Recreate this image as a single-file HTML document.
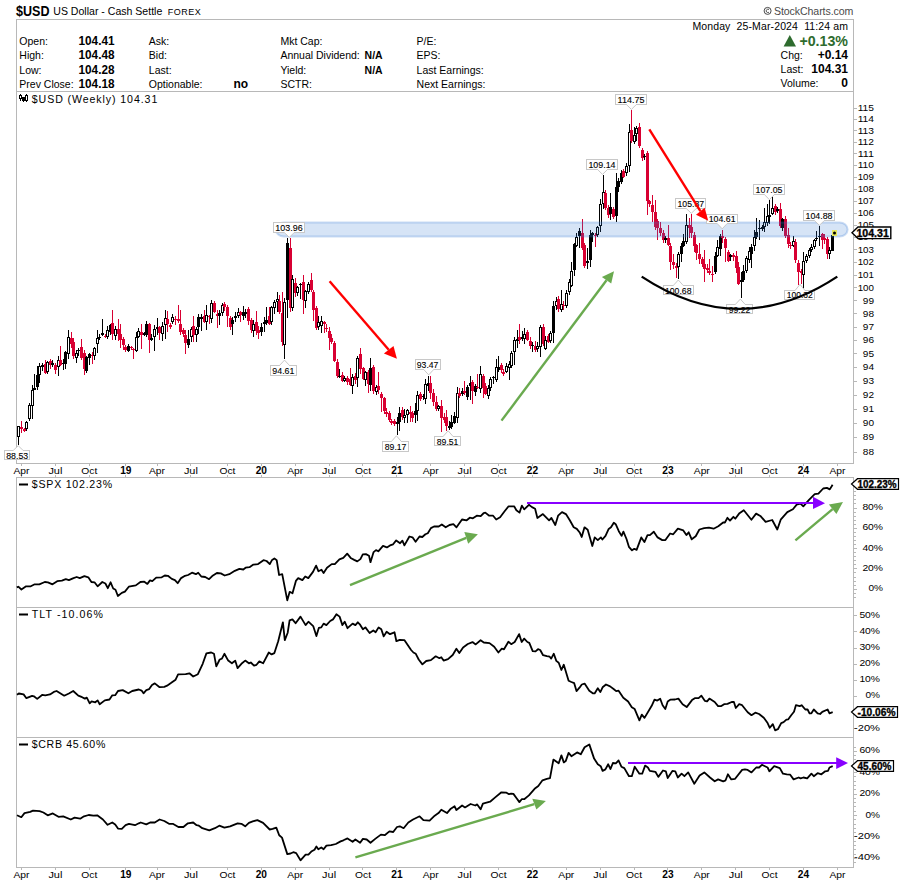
<!DOCTYPE html>
<html><head><meta charset="utf-8"><title>$USD chart</title>
<style>html,body{margin:0;padding:0;background:#fff;width:900px;height:884px;overflow:hidden}
</style></head><body>
<svg width="900" height="884" viewBox="0 0 900 884" style="display:block">
<rect width="900" height="884" fill="#fff"/>
<g font-family="&quot;Liberation Sans&quot;, sans-serif" fill="#000">
<text x="16" y="16" font-size="14" font-weight="bold" textLength="33.5" lengthAdjust="spacingAndGlyphs">$USD</text>
<text x="53.3" y="15.2" font-size="11" textLength="109" lengthAdjust="spacingAndGlyphs">US Dollar - Cash Settle</text>
<text x="167.8" y="14.8" font-size="9" textLength="33" lengthAdjust="spacing">FOREX</text>
</g>
<g font-family="&quot;Liberation Sans&quot;, sans-serif" fill="#4a4a4a">
<circle cx="767.6" cy="10.9" r="3.5" fill="none" stroke="#4a4a4a" stroke-width="1"/>
<path d="M769,9.6 A1.7,1.7 0 1 0 769,12.2" fill="none" stroke="#4a4a4a" stroke-width="0.9"/>
<text x="774" y="14.6" font-size="10.6" textLength="79.3" lengthAdjust="spacing">StockCharts.com</text>
</g>
<rect x="16" y="19" width="838" height="1" fill="#b8b8b8"/>
<rect x="16" y="91" width="838" height="1" fill="#b8b8b8"/>
<rect x="16" y="463" width="838" height="1" fill="#b8b8b8"/>
<rect x="16" y="19" width="1" height="445" fill="#b8b8b8"/>
<rect x="853" y="19" width="1" height="445" fill="#b8b8b8"/>
<rect x="16" y="477" width="838" height="1" fill="#b8b8b8"/>
<rect x="16" y="607" width="838" height="1" fill="#b8b8b8"/>
<rect x="16" y="737" width="838" height="1" fill="#b8b8b8"/>
<rect x="16" y="867" width="838" height="1" fill="#b8b8b8"/>
<rect x="16" y="477" width="1" height="391" fill="#b8b8b8"/>
<rect x="853" y="477" width="1" height="391" fill="#b8b8b8"/>
<g font-family="&quot;Liberation Sans&quot;, sans-serif" fill="#000" font-size="10.5">
<text x="19.3" y="45.3">Open:</text>
<text x="19.3" y="59.2">High:</text>
<text x="19.3" y="73.6">Low:</text>
<text x="19.3" y="87.8">Prev Close:</text>
<text x="78.5" y="45.3" font-weight="bold" font-size="12" textLength="36" lengthAdjust="spacingAndGlyphs">104.41</text>
<text x="78.5" y="59.2" font-weight="bold" font-size="12" textLength="36" lengthAdjust="spacingAndGlyphs">104.48</text>
<text x="78.5" y="73.6" font-weight="bold" font-size="12" textLength="36" lengthAdjust="spacingAndGlyphs">104.28</text>
<text x="78.5" y="87.8" font-weight="bold" font-size="12" textLength="36" lengthAdjust="spacingAndGlyphs">104.18</text>
<text x="148.8" y="45.3">Ask:</text>
<text x="148.8" y="59.2">Bid:</text>
<text x="148.8" y="73.6">Last:</text>
<text x="148.8" y="87.8">Optionable:</text>
<text x="233.5" y="87.8" font-weight="bold" font-size="12">no</text>
<text x="280.4" y="45.3">Mkt Cap:</text>
<text x="280.4" y="59.2">Annual Dividend:</text>
<text x="280.4" y="73.6">Yield:</text>
<text x="280.4" y="87.8">SCTR:</text>
<text x="364.6" y="59.2" font-weight="bold" font-size="11.5" textLength="18" lengthAdjust="spacingAndGlyphs">N/A</text>
<text x="364.6" y="73.6" font-weight="bold" font-size="11.5" textLength="18" lengthAdjust="spacingAndGlyphs">N/A</text>
<text x="416.6" y="45.3">P/E:</text>
<text x="416.6" y="59.2">EPS:</text>
<text x="416.6" y="73.6">Last Earnings:</text>
<text x="416.6" y="87.8">Next Earnings:</text>
<text x="848" y="30" text-anchor="end" xml:space="preserve" textLength="155.6" lengthAdjust="spacing">Monday  25-Mar-2024  11:24 am</text>
<polygon points="783.6,46.4 789.8,35 796,46.4" fill="#2e6b2e"/>
<text x="848" y="45.6" text-anchor="end" font-size="14" font-weight="bold" fill="#2e6b2e" textLength="48.6" lengthAdjust="spacingAndGlyphs">+0.13%</text>
<text x="780.6" y="59">Chg:</text><text x="848" y="59" text-anchor="end" font-weight="bold" font-size="12">+0.14</text>
<text x="780.6" y="73">Last:</text><text x="848" y="73" text-anchor="end" font-weight="bold" font-size="12">104.31</text>
<text x="780.6" y="87">Volume:</text><text x="848" y="87" text-anchor="end" font-weight="bold" font-size="12">0</text>
</g>
<g fill="#000">
<g shape-rendering="crispEdges">
<rect x="20" y="94" width="1" height="7"/><rect x="19" y="95" width="3" height="4"/><rect x="20" y="96" width="1" height="2" fill="#fff"/>
<rect x="22" y="97" width="3" height="4"/><rect x="23" y="100" width="1" height="2"/>
<rect x="26" y="94" width="1" height="8"/><rect x="25" y="95" width="3" height="6"/><rect x="26" y="96" width="1" height="4" fill="#fff"/>
</g>
</g>
<text x="31.8" y="103.1" font-family="&quot;Liberation Sans&quot;, sans-serif" font-size="10.6" textLength="125.5" lengthAdjust="spacing">$USD (Weekly) 104.31</text>
<g font-family="&quot;Liberation Sans&quot;, sans-serif" font-size="10" fill="#000">
<rect x="854" y="452" width="3" height="1" fill="#b8b8b8"/>
<text x="874" y="454.9" text-anchor="end" font-size="9.2" textLength="11.2" lengthAdjust="spacingAndGlyphs">88</text>
<rect x="854" y="437" width="3" height="1" fill="#b8b8b8"/>
<text x="874" y="440.4" text-anchor="end" font-size="9.2" textLength="11.2" lengthAdjust="spacingAndGlyphs">89</text>
<rect x="854" y="423" width="3" height="1" fill="#b8b8b8"/>
<text x="874" y="426.0" text-anchor="end" font-size="9.2" textLength="11.2" lengthAdjust="spacingAndGlyphs">90</text>
<rect x="854" y="409" width="3" height="1" fill="#b8b8b8"/>
<text x="874" y="411.8" text-anchor="end" font-size="9.2" textLength="11.2" lengthAdjust="spacingAndGlyphs">91</text>
<rect x="854" y="395" width="3" height="1" fill="#b8b8b8"/>
<text x="874" y="397.8" text-anchor="end" font-size="9.2" textLength="11.2" lengthAdjust="spacingAndGlyphs">92</text>
<rect x="854" y="381" width="3" height="1" fill="#b8b8b8"/>
<text x="874" y="383.9" text-anchor="end" font-size="9.2" textLength="11.2" lengthAdjust="spacingAndGlyphs">93</text>
<rect x="854" y="367" width="3" height="1" fill="#b8b8b8"/>
<text x="874" y="370.2" text-anchor="end" font-size="9.2" textLength="11.2" lengthAdjust="spacingAndGlyphs">94</text>
<rect x="854" y="353" width="3" height="1" fill="#b8b8b8"/>
<text x="874" y="356.6" text-anchor="end" font-size="9.2" textLength="11.2" lengthAdjust="spacingAndGlyphs">95</text>
<rect x="854" y="340" width="3" height="1" fill="#b8b8b8"/>
<text x="874" y="343.1" text-anchor="end" font-size="9.2" textLength="11.2" lengthAdjust="spacingAndGlyphs">96</text>
<rect x="854" y="327" width="3" height="1" fill="#b8b8b8"/>
<text x="874" y="329.8" text-anchor="end" font-size="9.2" textLength="11.2" lengthAdjust="spacingAndGlyphs">97</text>
<rect x="854" y="313" width="3" height="1" fill="#b8b8b8"/>
<text x="874" y="316.7" text-anchor="end" font-size="9.2" textLength="11.2" lengthAdjust="spacingAndGlyphs">98</text>
<rect x="854" y="300" width="3" height="1" fill="#b8b8b8"/>
<text x="874" y="303.6" text-anchor="end" font-size="9.2" textLength="11.2" lengthAdjust="spacingAndGlyphs">99</text>
<rect x="854" y="287" width="3" height="1" fill="#b8b8b8"/>
<text x="874" y="290.7" text-anchor="end" font-size="9.2" textLength="16.3" lengthAdjust="spacingAndGlyphs">100</text>
<rect x="854" y="275" width="3" height="1" fill="#b8b8b8"/>
<text x="874" y="277.9" text-anchor="end" font-size="9.2" textLength="16.3" lengthAdjust="spacingAndGlyphs">101</text>
<rect x="854" y="262" width="3" height="1" fill="#b8b8b8"/>
<text x="874" y="265.3" text-anchor="end" font-size="9.2" textLength="16.3" lengthAdjust="spacingAndGlyphs">102</text>
<rect x="854" y="249" width="3" height="1" fill="#b8b8b8"/>
<text x="874" y="252.8" text-anchor="end" font-size="9.2" textLength="16.3" lengthAdjust="spacingAndGlyphs">103</text>
<rect x="854" y="237" width="3" height="1" fill="#b8b8b8"/>
<text x="874" y="240.3" text-anchor="end" font-size="9.2" textLength="16.3" lengthAdjust="spacingAndGlyphs">104</text>
<rect x="854" y="225" width="3" height="1" fill="#b8b8b8"/>
<text x="874" y="228.1" text-anchor="end" font-size="9.2" textLength="16.3" lengthAdjust="spacingAndGlyphs">105</text>
<rect x="854" y="213" width="3" height="1" fill="#b8b8b8"/>
<text x="874" y="215.9" text-anchor="end" font-size="9.2" textLength="16.3" lengthAdjust="spacingAndGlyphs">106</text>
<rect x="854" y="201" width="3" height="1" fill="#b8b8b8"/>
<text x="874" y="203.8" text-anchor="end" font-size="9.2" textLength="16.3" lengthAdjust="spacingAndGlyphs">107</text>
<rect x="854" y="189" width="3" height="1" fill="#b8b8b8"/>
<text x="874" y="191.9" text-anchor="end" font-size="9.2" textLength="16.3" lengthAdjust="spacingAndGlyphs">108</text>
<rect x="854" y="177" width="3" height="1" fill="#b8b8b8"/>
<text x="874" y="180.0" text-anchor="end" font-size="9.2" textLength="16.3" lengthAdjust="spacingAndGlyphs">109</text>
<rect x="854" y="165" width="3" height="1" fill="#b8b8b8"/>
<text x="874" y="168.3" text-anchor="end" font-size="9.2" textLength="16.3" lengthAdjust="spacingAndGlyphs">110</text>
<rect x="854" y="153" width="3" height="1" fill="#b8b8b8"/>
<text x="874" y="156.7" text-anchor="end" font-size="9.2" textLength="16.3" lengthAdjust="spacingAndGlyphs">111</text>
<rect x="854" y="142" width="3" height="1" fill="#b8b8b8"/>
<text x="874" y="145.2" text-anchor="end" font-size="9.2" textLength="16.3" lengthAdjust="spacingAndGlyphs">112</text>
<rect x="854" y="130" width="3" height="1" fill="#b8b8b8"/>
<text x="874" y="133.8" text-anchor="end" font-size="9.2" textLength="16.3" lengthAdjust="spacingAndGlyphs">113</text>
<rect x="854" y="119" width="3" height="1" fill="#b8b8b8"/>
<text x="874" y="122.4" text-anchor="end" font-size="9.2" textLength="16.3" lengthAdjust="spacingAndGlyphs">114</text>
<rect x="854" y="108" width="3" height="1" fill="#b8b8b8"/>
<text x="874" y="111.2" text-anchor="end" font-size="9.2" textLength="16.3" lengthAdjust="spacingAndGlyphs">115</text>
</g>
<g font-family="&quot;Liberation Sans&quot;, sans-serif" fill="#000">
<rect x="21" y="464" width="1" height="2" fill="#b8b8b8"/>
<rect x="21" y="475" width="1" height="2" fill="#b8b8b8"/>
<text x="21.5" y="474.3" text-anchor="middle" font-size="9.3" textLength="16" lengthAdjust="spacingAndGlyphs">Apr</text>
<rect x="55" y="464" width="1" height="2" fill="#b8b8b8"/>
<rect x="55" y="475" width="1" height="2" fill="#b8b8b8"/>
<text x="55.4" y="474.3" text-anchor="middle" font-size="9.3" textLength="14" lengthAdjust="spacingAndGlyphs">Jul</text>
<rect x="89" y="464" width="1" height="2" fill="#b8b8b8"/>
<rect x="89" y="475" width="1" height="2" fill="#b8b8b8"/>
<text x="89.3" y="474.3" text-anchor="middle" font-size="9.3" textLength="16" lengthAdjust="spacingAndGlyphs">Oct</text>
<rect x="125" y="464" width="1" height="2" fill="#b8b8b8"/>
<rect x="125" y="475" width="1" height="2" fill="#b8b8b8"/>
<text x="125.8" y="474.3" text-anchor="middle" font-size="10.5" font-weight="bold" textLength="11.3" lengthAdjust="spacingAndGlyphs">19</text>
<rect x="157" y="464" width="1" height="2" fill="#b8b8b8"/>
<rect x="157" y="475" width="1" height="2" fill="#b8b8b8"/>
<text x="157.0" y="474.3" text-anchor="middle" font-size="9.3" textLength="16" lengthAdjust="spacingAndGlyphs">Apr</text>
<rect x="190" y="464" width="1" height="2" fill="#b8b8b8"/>
<rect x="190" y="475" width="1" height="2" fill="#b8b8b8"/>
<text x="190.9" y="474.3" text-anchor="middle" font-size="9.3" textLength="14" lengthAdjust="spacingAndGlyphs">Jul</text>
<rect x="227" y="464" width="1" height="2" fill="#b8b8b8"/>
<rect x="227" y="475" width="1" height="2" fill="#b8b8b8"/>
<text x="227.4" y="474.3" text-anchor="middle" font-size="9.3" textLength="16" lengthAdjust="spacingAndGlyphs">Oct</text>
<rect x="261" y="464" width="1" height="2" fill="#b8b8b8"/>
<rect x="261" y="475" width="1" height="2" fill="#b8b8b8"/>
<text x="261.3" y="474.3" text-anchor="middle" font-size="10.5" font-weight="bold" textLength="11.3" lengthAdjust="spacingAndGlyphs">20</text>
<rect x="295" y="464" width="1" height="2" fill="#b8b8b8"/>
<rect x="295" y="475" width="1" height="2" fill="#b8b8b8"/>
<text x="295.2" y="474.3" text-anchor="middle" font-size="9.3" textLength="16" lengthAdjust="spacingAndGlyphs">Apr</text>
<rect x="329" y="464" width="1" height="2" fill="#b8b8b8"/>
<rect x="329" y="475" width="1" height="2" fill="#b8b8b8"/>
<text x="329.1" y="474.3" text-anchor="middle" font-size="9.3" textLength="14" lengthAdjust="spacingAndGlyphs">Jul</text>
<rect x="362" y="464" width="1" height="2" fill="#b8b8b8"/>
<rect x="362" y="475" width="1" height="2" fill="#b8b8b8"/>
<text x="363.0" y="474.3" text-anchor="middle" font-size="9.3" textLength="16" lengthAdjust="spacingAndGlyphs">Oct</text>
<rect x="396" y="464" width="1" height="2" fill="#b8b8b8"/>
<rect x="396" y="475" width="1" height="2" fill="#b8b8b8"/>
<text x="396.9" y="474.3" text-anchor="middle" font-size="10.5" font-weight="bold" textLength="11.3" lengthAdjust="spacingAndGlyphs">21</text>
<rect x="430" y="464" width="1" height="2" fill="#b8b8b8"/>
<rect x="430" y="475" width="1" height="2" fill="#b8b8b8"/>
<text x="430.7" y="474.3" text-anchor="middle" font-size="9.3" textLength="16" lengthAdjust="spacingAndGlyphs">Apr</text>
<rect x="464" y="464" width="1" height="2" fill="#b8b8b8"/>
<rect x="464" y="475" width="1" height="2" fill="#b8b8b8"/>
<text x="464.6" y="474.3" text-anchor="middle" font-size="9.3" textLength="14" lengthAdjust="spacingAndGlyphs">Jul</text>
<rect x="498" y="464" width="1" height="2" fill="#b8b8b8"/>
<rect x="498" y="475" width="1" height="2" fill="#b8b8b8"/>
<text x="498.5" y="474.3" text-anchor="middle" font-size="9.3" textLength="16" lengthAdjust="spacingAndGlyphs">Oct</text>
<rect x="532" y="464" width="1" height="2" fill="#b8b8b8"/>
<rect x="532" y="475" width="1" height="2" fill="#b8b8b8"/>
<text x="532.4" y="474.3" text-anchor="middle" font-size="10.5" font-weight="bold" textLength="11.3" lengthAdjust="spacingAndGlyphs">22</text>
<rect x="566" y="464" width="1" height="2" fill="#b8b8b8"/>
<rect x="566" y="475" width="1" height="2" fill="#b8b8b8"/>
<text x="566.3" y="474.3" text-anchor="middle" font-size="9.3" textLength="16" lengthAdjust="spacingAndGlyphs">Apr</text>
<rect x="600" y="464" width="1" height="2" fill="#b8b8b8"/>
<rect x="600" y="475" width="1" height="2" fill="#b8b8b8"/>
<text x="600.2" y="474.3" text-anchor="middle" font-size="9.3" textLength="14" lengthAdjust="spacingAndGlyphs">Jul</text>
<rect x="634" y="464" width="1" height="2" fill="#b8b8b8"/>
<rect x="634" y="475" width="1" height="2" fill="#b8b8b8"/>
<text x="634.1" y="474.3" text-anchor="middle" font-size="9.3" textLength="16" lengthAdjust="spacingAndGlyphs">Oct</text>
<rect x="667" y="464" width="1" height="2" fill="#b8b8b8"/>
<rect x="667" y="475" width="1" height="2" fill="#b8b8b8"/>
<text x="668.0" y="474.3" text-anchor="middle" font-size="10.5" font-weight="bold" textLength="11.3" lengthAdjust="spacingAndGlyphs">23</text>
<rect x="701" y="464" width="1" height="2" fill="#b8b8b8"/>
<rect x="701" y="475" width="1" height="2" fill="#b8b8b8"/>
<text x="701.8" y="474.3" text-anchor="middle" font-size="9.3" textLength="16" lengthAdjust="spacingAndGlyphs">Apr</text>
<rect x="735" y="464" width="1" height="2" fill="#b8b8b8"/>
<rect x="735" y="475" width="1" height="2" fill="#b8b8b8"/>
<text x="735.7" y="474.3" text-anchor="middle" font-size="9.3" textLength="14" lengthAdjust="spacingAndGlyphs">Jul</text>
<rect x="769" y="464" width="1" height="2" fill="#b8b8b8"/>
<rect x="769" y="475" width="1" height="2" fill="#b8b8b8"/>
<text x="769.6" y="474.3" text-anchor="middle" font-size="9.3" textLength="16" lengthAdjust="spacingAndGlyphs">Oct</text>
<rect x="803" y="464" width="1" height="2" fill="#b8b8b8"/>
<rect x="803" y="475" width="1" height="2" fill="#b8b8b8"/>
<text x="803.5" y="474.3" text-anchor="middle" font-size="10.5" font-weight="bold" textLength="11.3" lengthAdjust="spacingAndGlyphs">24</text>
<rect x="837" y="464" width="1" height="2" fill="#b8b8b8"/>
<rect x="837" y="475" width="1" height="2" fill="#b8b8b8"/>
<text x="837.4" y="474.3" text-anchor="middle" font-size="9.3" textLength="16" lengthAdjust="spacingAndGlyphs">Apr</text>
</g>
<g font-family="&quot;Liberation Sans&quot;, sans-serif" fill="#000">
<rect x="21" y="868" width="1" height="2" fill="#b8b8b8"/>
<text x="21.5" y="878.3" text-anchor="middle" font-size="9.3" textLength="16" lengthAdjust="spacingAndGlyphs">Apr</text>
<rect x="55" y="868" width="1" height="2" fill="#b8b8b8"/>
<text x="55.4" y="878.3" text-anchor="middle" font-size="9.3" textLength="14" lengthAdjust="spacingAndGlyphs">Jul</text>
<rect x="89" y="868" width="1" height="2" fill="#b8b8b8"/>
<text x="89.3" y="878.3" text-anchor="middle" font-size="9.3" textLength="16" lengthAdjust="spacingAndGlyphs">Oct</text>
<rect x="125" y="868" width="1" height="2" fill="#b8b8b8"/>
<text x="125.8" y="878.3" text-anchor="middle" font-size="10.5" font-weight="bold" textLength="11.3" lengthAdjust="spacingAndGlyphs">19</text>
<rect x="157" y="868" width="1" height="2" fill="#b8b8b8"/>
<text x="157.0" y="878.3" text-anchor="middle" font-size="9.3" textLength="16" lengthAdjust="spacingAndGlyphs">Apr</text>
<rect x="190" y="868" width="1" height="2" fill="#b8b8b8"/>
<text x="190.9" y="878.3" text-anchor="middle" font-size="9.3" textLength="14" lengthAdjust="spacingAndGlyphs">Jul</text>
<rect x="227" y="868" width="1" height="2" fill="#b8b8b8"/>
<text x="227.4" y="878.3" text-anchor="middle" font-size="9.3" textLength="16" lengthAdjust="spacingAndGlyphs">Oct</text>
<rect x="261" y="868" width="1" height="2" fill="#b8b8b8"/>
<text x="261.3" y="878.3" text-anchor="middle" font-size="10.5" font-weight="bold" textLength="11.3" lengthAdjust="spacingAndGlyphs">20</text>
<rect x="295" y="868" width="1" height="2" fill="#b8b8b8"/>
<text x="295.2" y="878.3" text-anchor="middle" font-size="9.3" textLength="16" lengthAdjust="spacingAndGlyphs">Apr</text>
<rect x="329" y="868" width="1" height="2" fill="#b8b8b8"/>
<text x="329.1" y="878.3" text-anchor="middle" font-size="9.3" textLength="14" lengthAdjust="spacingAndGlyphs">Jul</text>
<rect x="362" y="868" width="1" height="2" fill="#b8b8b8"/>
<text x="363.0" y="878.3" text-anchor="middle" font-size="9.3" textLength="16" lengthAdjust="spacingAndGlyphs">Oct</text>
<rect x="396" y="868" width="1" height="2" fill="#b8b8b8"/>
<text x="396.9" y="878.3" text-anchor="middle" font-size="10.5" font-weight="bold" textLength="11.3" lengthAdjust="spacingAndGlyphs">21</text>
<rect x="430" y="868" width="1" height="2" fill="#b8b8b8"/>
<text x="430.7" y="878.3" text-anchor="middle" font-size="9.3" textLength="16" lengthAdjust="spacingAndGlyphs">Apr</text>
<rect x="464" y="868" width="1" height="2" fill="#b8b8b8"/>
<text x="464.6" y="878.3" text-anchor="middle" font-size="9.3" textLength="14" lengthAdjust="spacingAndGlyphs">Jul</text>
<rect x="498" y="868" width="1" height="2" fill="#b8b8b8"/>
<text x="498.5" y="878.3" text-anchor="middle" font-size="9.3" textLength="16" lengthAdjust="spacingAndGlyphs">Oct</text>
<rect x="532" y="868" width="1" height="2" fill="#b8b8b8"/>
<text x="532.4" y="878.3" text-anchor="middle" font-size="10.5" font-weight="bold" textLength="11.3" lengthAdjust="spacingAndGlyphs">22</text>
<rect x="566" y="868" width="1" height="2" fill="#b8b8b8"/>
<text x="566.3" y="878.3" text-anchor="middle" font-size="9.3" textLength="16" lengthAdjust="spacingAndGlyphs">Apr</text>
<rect x="600" y="868" width="1" height="2" fill="#b8b8b8"/>
<text x="600.2" y="878.3" text-anchor="middle" font-size="9.3" textLength="14" lengthAdjust="spacingAndGlyphs">Jul</text>
<rect x="634" y="868" width="1" height="2" fill="#b8b8b8"/>
<text x="634.1" y="878.3" text-anchor="middle" font-size="9.3" textLength="16" lengthAdjust="spacingAndGlyphs">Oct</text>
<rect x="667" y="868" width="1" height="2" fill="#b8b8b8"/>
<text x="668.0" y="878.3" text-anchor="middle" font-size="10.5" font-weight="bold" textLength="11.3" lengthAdjust="spacingAndGlyphs">23</text>
<rect x="701" y="868" width="1" height="2" fill="#b8b8b8"/>
<text x="701.8" y="878.3" text-anchor="middle" font-size="9.3" textLength="16" lengthAdjust="spacingAndGlyphs">Apr</text>
<rect x="735" y="868" width="1" height="2" fill="#b8b8b8"/>
<text x="735.7" y="878.3" text-anchor="middle" font-size="9.3" textLength="14" lengthAdjust="spacingAndGlyphs">Jul</text>
<rect x="769" y="868" width="1" height="2" fill="#b8b8b8"/>
<text x="769.6" y="878.3" text-anchor="middle" font-size="9.3" textLength="16" lengthAdjust="spacingAndGlyphs">Oct</text>
<rect x="803" y="868" width="1" height="2" fill="#b8b8b8"/>
<text x="803.5" y="878.3" text-anchor="middle" font-size="10.5" font-weight="bold" textLength="11.3" lengthAdjust="spacingAndGlyphs">24</text>
<rect x="837" y="868" width="1" height="2" fill="#b8b8b8"/>
<text x="837.4" y="878.3" text-anchor="middle" font-size="9.3" textLength="16" lengthAdjust="spacingAndGlyphs">Apr</text>
</g>
<g shape-rendering="crispEdges">
<rect x="18" y="426" width="1" height="19" fill="#000"/>
<rect x="17.5" y="426.5" width="2" height="10" fill="#fff" stroke="#000" stroke-width="1"/>
<rect x="21" y="421" width="1" height="12" fill="#d80032"/>
<rect x="20.5" y="427.5" width="2" height="1" fill="#fff" stroke="#d80032" stroke-width="1"/>
<rect x="24" y="428" width="1" height="4" fill="#d80032"/>
<rect x="23.5" y="429.5" width="2" height="1" fill="#fff" stroke="#d80032" stroke-width="1"/>
<rect x="26" y="421" width="1" height="10" fill="#000"/>
<rect x="25.5" y="422.5" width="2" height="6" fill="#fff" stroke="#000" stroke-width="1"/>
<rect x="29" y="403" width="1" height="18" fill="#000"/>
<rect x="28.5" y="405.5" width="2" height="13" fill="#fff" stroke="#000" stroke-width="1"/>
<rect x="32" y="385" width="1" height="34" fill="#000"/>
<rect x="31.5" y="390.5" width="2" height="15" fill="#fff" stroke="#000" stroke-width="1"/>
<rect x="34" y="374" width="1" height="16" fill="#000"/>
<rect x="33.5" y="388.5" width="2" height="1" fill="#fff" stroke="#000" stroke-width="1"/>
<rect x="37" y="366" width="1" height="24" fill="#000"/>
<rect x="36" y="375" width="3" height="12" fill="#000"/>
<rect x="39" y="363" width="1" height="20" fill="#000"/>
<rect x="38.5" y="366.5" width="2" height="8" fill="#fff" stroke="#000" stroke-width="1"/>
<rect x="42" y="363" width="1" height="8" fill="#000"/>
<rect x="41" y="365" width="3" height="2" fill="#000"/>
<rect x="45" y="360" width="1" height="14" fill="#d80032"/>
<rect x="44" y="364" width="3" height="9" fill="#d80032"/>
<rect x="47" y="361" width="1" height="13" fill="#000"/>
<rect x="46.5" y="362.5" width="2" height="9" fill="#fff" stroke="#000" stroke-width="1"/>
<rect x="50" y="359" width="1" height="10" fill="#d80032"/>
<rect x="49" y="361" width="3" height="4" fill="#d80032"/>
<rect x="52" y="360" width="1" height="7" fill="#000"/>
<rect x="51" y="363" width="3" height="2" fill="#000"/>
<rect x="55" y="363" width="1" height="11" fill="#d80032"/>
<rect x="54" y="365" width="3" height="5" fill="#d80032"/>
<rect x="58" y="356" width="1" height="20" fill="#000"/>
<rect x="57.5" y="360.5" width="2" height="6" fill="#fff" stroke="#000" stroke-width="1"/>
<rect x="60" y="346" width="1" height="20" fill="#d80032"/>
<rect x="59" y="360" width="3" height="5" fill="#d80032"/>
<rect x="63" y="359" width="1" height="11" fill="#000"/>
<rect x="62" y="363" width="3" height="1" fill="#000"/>
<rect x="65" y="351" width="1" height="18" fill="#000"/>
<rect x="64" y="352" width="3" height="12" fill="#000"/>
<rect x="68" y="330" width="1" height="29" fill="#000"/>
<rect x="67.5" y="337.5" width="2" height="16" fill="#fff" stroke="#000" stroke-width="1"/>
<rect x="71" y="332" width="1" height="16" fill="#d80032"/>
<rect x="70" y="338" width="3" height="6" fill="#d80032"/>
<rect x="73" y="338" width="1" height="21" fill="#d80032"/>
<rect x="72" y="342" width="3" height="14" fill="#d80032"/>
<rect x="76" y="350" width="1" height="13" fill="#000"/>
<rect x="75.5" y="353.5" width="2" height="4" fill="#fff" stroke="#000" stroke-width="1"/>
<rect x="78" y="348" width="1" height="8" fill="#000"/>
<rect x="77" y="350" width="3" height="1" fill="#000"/>
<rect x="81" y="339" width="1" height="21" fill="#d80032"/>
<rect x="80" y="347" width="3" height="11" fill="#d80032"/>
<rect x="84" y="350" width="1" height="25" fill="#d80032"/>
<rect x="83" y="353" width="3" height="16" fill="#d80032"/>
<rect x="86" y="356" width="1" height="17" fill="#000"/>
<rect x="85" y="357" width="3" height="14" fill="#000"/>
<rect x="89" y="353" width="1" height="12" fill="#000"/>
<rect x="88" y="354" width="3" height="4" fill="#000"/>
<rect x="92" y="352" width="1" height="12" fill="#d80032"/>
<rect x="91" y="355" width="3" height="1" fill="#d80032"/>
<rect x="94" y="347" width="1" height="13" fill="#000"/>
<rect x="93.5" y="348.5" width="2" height="7" fill="#fff" stroke="#000" stroke-width="1"/>
<rect x="97" y="330" width="1" height="23" fill="#000"/>
<rect x="96.5" y="338.5" width="2" height="5" fill="#fff" stroke="#000" stroke-width="1"/>
<rect x="99" y="334" width="1" height="6" fill="#000"/>
<rect x="98" y="337" width="3" height="1" fill="#000"/>
<rect x="102" y="319" width="1" height="17" fill="#000"/>
<rect x="101.5" y="333.5" width="2" height="1" fill="#fff" stroke="#000" stroke-width="1"/>
<rect x="105" y="334" width="1" height="4" fill="#d80032"/>
<rect x="104" y="336" width="3" height="1" fill="#d80032"/>
<rect x="107" y="326" width="1" height="13" fill="#000"/>
<rect x="106.5" y="330.5" width="2" height="6" fill="#fff" stroke="#000" stroke-width="1"/>
<rect x="110" y="324" width="1" height="11" fill="#000"/>
<rect x="109" y="325" width="3" height="7" fill="#000"/>
<rect x="112" y="310" width="1" height="30" fill="#d80032"/>
<rect x="111" y="323" width="3" height="11" fill="#d80032"/>
<rect x="115" y="326" width="1" height="14" fill="#000"/>
<rect x="114.5" y="329.5" width="2" height="6" fill="#fff" stroke="#000" stroke-width="1"/>
<rect x="118" y="319" width="1" height="22" fill="#d80032"/>
<rect x="117" y="329" width="3" height="5" fill="#d80032"/>
<rect x="120" y="324" width="1" height="24" fill="#d80032"/>
<rect x="119" y="334" width="3" height="6" fill="#d80032"/>
<rect x="123" y="337" width="1" height="13" fill="#d80032"/>
<rect x="122" y="339" width="3" height="6" fill="#d80032"/>
<rect x="125" y="345" width="1" height="7" fill="#d80032"/>
<rect x="124" y="347" width="3" height="3" fill="#d80032"/>
<rect x="128" y="344" width="1" height="8" fill="#000"/>
<rect x="127" y="346" width="3" height="5" fill="#000"/>
<rect x="131" y="346" width="1" height="4" fill="#d80032"/>
<rect x="130" y="347" width="3" height="1" fill="#d80032"/>
<rect x="133" y="348" width="1" height="11" fill="#d80032"/>
<rect x="132" y="349" width="3" height="1" fill="#d80032"/>
<rect x="136" y="332" width="1" height="20" fill="#000"/>
<rect x="135.5" y="337.5" width="2" height="13" fill="#fff" stroke="#000" stroke-width="1"/>
<rect x="138" y="328" width="1" height="10" fill="#000"/>
<rect x="137.5" y="331.5" width="2" height="5" fill="#fff" stroke="#000" stroke-width="1"/>
<rect x="141" y="324" width="1" height="25" fill="#d80032"/>
<rect x="140" y="332" width="3" height="3" fill="#d80032"/>
<rect x="144" y="332" width="1" height="4" fill="#000"/>
<rect x="143" y="333" width="3" height="2" fill="#000"/>
<rect x="146" y="321" width="1" height="16" fill="#000"/>
<rect x="145" y="324" width="3" height="11" fill="#000"/>
<rect x="149" y="323" width="1" height="30" fill="#d80032"/>
<rect x="148" y="324" width="3" height="16" fill="#d80032"/>
<rect x="151" y="334" width="1" height="7" fill="#000"/>
<rect x="150.5" y="338.5" width="2" height="1" fill="#fff" stroke="#000" stroke-width="1"/>
<rect x="154" y="325" width="1" height="26" fill="#000"/>
<rect x="153.5" y="329.5" width="2" height="7" fill="#fff" stroke="#000" stroke-width="1"/>
<rect x="157" y="318" width="1" height="17" fill="#000"/>
<rect x="156.5" y="327.5" width="2" height="1" fill="#fff" stroke="#000" stroke-width="1"/>
<rect x="159" y="326" width="1" height="14" fill="#d80032"/>
<rect x="158" y="327" width="3" height="6" fill="#d80032"/>
<rect x="162" y="322" width="1" height="19" fill="#000"/>
<rect x="161.5" y="326.5" width="2" height="7" fill="#fff" stroke="#000" stroke-width="1"/>
<rect x="165" y="310" width="1" height="29" fill="#000"/>
<rect x="164.5" y="318.5" width="2" height="6" fill="#fff" stroke="#000" stroke-width="1"/>
<rect x="167" y="311" width="1" height="21" fill="#d80032"/>
<rect x="166" y="319" width="3" height="5" fill="#d80032"/>
<rect x="170" y="323" width="1" height="6" fill="#d80032"/>
<rect x="169.5" y="325.5" width="2" height="1" fill="#fff" stroke="#d80032" stroke-width="1"/>
<rect x="172" y="314" width="1" height="10" fill="#000"/>
<rect x="171.5" y="317.5" width="2" height="4" fill="#fff" stroke="#000" stroke-width="1"/>
<rect x="175" y="316" width="1" height="9" fill="#d80032"/>
<rect x="174" y="319" width="3" height="1" fill="#d80032"/>
<rect x="178" y="305" width="1" height="18" fill="#d80032"/>
<rect x="177.5" y="319.5" width="2" height="1" fill="#fff" stroke="#d80032" stroke-width="1"/>
<rect x="180" y="310" width="1" height="25" fill="#d80032"/>
<rect x="179" y="324" width="3" height="8" fill="#d80032"/>
<rect x="183" y="328" width="1" height="9" fill="#d80032"/>
<rect x="182" y="330" width="3" height="4" fill="#d80032"/>
<rect x="185" y="330" width="1" height="24" fill="#d80032"/>
<rect x="184" y="335" width="3" height="8" fill="#d80032"/>
<rect x="188" y="330" width="1" height="18" fill="#000"/>
<rect x="187" y="339" width="3" height="6" fill="#000"/>
<rect x="191" y="327" width="1" height="15" fill="#000"/>
<rect x="190.5" y="329.5" width="2" height="7" fill="#fff" stroke="#000" stroke-width="1"/>
<rect x="193" y="316" width="1" height="26" fill="#d80032"/>
<rect x="192" y="326" width="3" height="9" fill="#d80032"/>
<rect x="196" y="327" width="1" height="15" fill="#000"/>
<rect x="195.5" y="329.5" width="2" height="5" fill="#fff" stroke="#000" stroke-width="1"/>
<rect x="198" y="314" width="1" height="20" fill="#000"/>
<rect x="197" y="317" width="3" height="10" fill="#000"/>
<rect x="201" y="314" width="1" height="17" fill="#000"/>
<rect x="200.5" y="317.5" width="2" height="1" fill="#fff" stroke="#000" stroke-width="1"/>
<rect x="204" y="310" width="1" height="13" fill="#d80032"/>
<rect x="203" y="316" width="3" height="6" fill="#d80032"/>
<rect x="206" y="305" width="1" height="25" fill="#000"/>
<rect x="205.5" y="315.5" width="2" height="6" fill="#fff" stroke="#000" stroke-width="1"/>
<rect x="209" y="315" width="1" height="9" fill="#d80032"/>
<rect x="208" y="316" width="3" height="1" fill="#d80032"/>
<rect x="211" y="300" width="1" height="23" fill="#000"/>
<rect x="210.5" y="303.5" width="2" height="15" fill="#fff" stroke="#000" stroke-width="1"/>
<rect x="214" y="301" width="1" height="12" fill="#d80032"/>
<rect x="213" y="303" width="3" height="9" fill="#d80032"/>
<rect x="217" y="310" width="1" height="18" fill="#d80032"/>
<rect x="216" y="314" width="3" height="2" fill="#d80032"/>
<rect x="219" y="310" width="1" height="15" fill="#000"/>
<rect x="218" y="313" width="3" height="3" fill="#000"/>
<rect x="222" y="303" width="1" height="13" fill="#000"/>
<rect x="221.5" y="305.5" width="2" height="7" fill="#fff" stroke="#000" stroke-width="1"/>
<rect x="224" y="302" width="1" height="9" fill="#d80032"/>
<rect x="223" y="304" width="3" height="3" fill="#d80032"/>
<rect x="227" y="305" width="1" height="22" fill="#d80032"/>
<rect x="226" y="307" width="3" height="9" fill="#d80032"/>
<rect x="230" y="316" width="1" height="14" fill="#d80032"/>
<rect x="229" y="318" width="3" height="9" fill="#d80032"/>
<rect x="232" y="317" width="1" height="18" fill="#000"/>
<rect x="231" y="320" width="3" height="4" fill="#000"/>
<rect x="235" y="312" width="1" height="10" fill="#000"/>
<rect x="234" y="316" width="3" height="2" fill="#000"/>
<rect x="238" y="308" width="1" height="10" fill="#000"/>
<rect x="237.5" y="312.5" width="2" height="3" fill="#fff" stroke="#000" stroke-width="1"/>
<rect x="240" y="311" width="1" height="11" fill="#d80032"/>
<rect x="239" y="312" width="3" height="3" fill="#d80032"/>
<rect x="243" y="306" width="1" height="14" fill="#000"/>
<rect x="242" y="312" width="3" height="4" fill="#000"/>
<rect x="245" y="309" width="1" height="9" fill="#000"/>
<rect x="244.5" y="312.5" width="2" height="1" fill="#fff" stroke="#000" stroke-width="1"/>
<rect x="248" y="307" width="1" height="18" fill="#d80032"/>
<rect x="247" y="309" width="3" height="12" fill="#d80032"/>
<rect x="251" y="318" width="1" height="15" fill="#d80032"/>
<rect x="250" y="320" width="3" height="10" fill="#d80032"/>
<rect x="253" y="320" width="1" height="17" fill="#000"/>
<rect x="252.5" y="324.5" width="2" height="6" fill="#fff" stroke="#000" stroke-width="1"/>
<rect x="256" y="311" width="1" height="24" fill="#d80032"/>
<rect x="255" y="322" width="3" height="9" fill="#d80032"/>
<rect x="258" y="326" width="1" height="13" fill="#d80032"/>
<rect x="257" y="330" width="3" height="3" fill="#d80032"/>
<rect x="261" y="323" width="1" height="13" fill="#000"/>
<rect x="260" y="327" width="3" height="5" fill="#000"/>
<rect x="264" y="317" width="1" height="15" fill="#000"/>
<rect x="263.5" y="322.5" width="2" height="1" fill="#fff" stroke="#000" stroke-width="1"/>
<rect x="266" y="307" width="1" height="18" fill="#000"/>
<rect x="265" y="320" width="3" height="3" fill="#000"/>
<rect x="269" y="307" width="1" height="18" fill="#d80032"/>
<rect x="268" y="316" width="3" height="8" fill="#d80032"/>
<rect x="271" y="306" width="1" height="19" fill="#000"/>
<rect x="270.5" y="307.5" width="2" height="14" fill="#fff" stroke="#000" stroke-width="1"/>
<rect x="274" y="300" width="1" height="14" fill="#000"/>
<rect x="273.5" y="302.5" width="2" height="5" fill="#fff" stroke="#000" stroke-width="1"/>
<rect x="277" y="292" width="1" height="20" fill="#000"/>
<rect x="276.5" y="299.5" width="2" height="2" fill="#fff" stroke="#000" stroke-width="1"/>
<rect x="279" y="295" width="1" height="19" fill="#d80032"/>
<rect x="278" y="301" width="3" height="11" fill="#d80032"/>
<rect x="282" y="292" width="1" height="54" fill="#d80032"/>
<rect x="281" y="313" width="3" height="29" fill="#d80032"/>
<rect x="284" y="298" width="1" height="61" fill="#000"/>
<rect x="283.5" y="302.5" width="2" height="42" fill="#fff" stroke="#000" stroke-width="1"/>
<rect x="287" y="238" width="1" height="80" fill="#000"/>
<rect x="286" y="243" width="3" height="57" fill="#000"/>
<rect x="290" y="238" width="1" height="74" fill="#d80032"/>
<rect x="289" y="248" width="3" height="60" fill="#d80032"/>
<rect x="292" y="275" width="1" height="36" fill="#000"/>
<rect x="291.5" y="279.5" width="2" height="28" fill="#fff" stroke="#000" stroke-width="1"/>
<rect x="295" y="278" width="1" height="19" fill="#d80032"/>
<rect x="294" y="283" width="3" height="10" fill="#d80032"/>
<rect x="297" y="286" width="1" height="10" fill="#000"/>
<rect x="296.5" y="287.5" width="2" height="5" fill="#fff" stroke="#000" stroke-width="1"/>
<rect x="300" y="283" width="1" height="16" fill="#000"/>
<rect x="299" y="284" width="3" height="1" fill="#000"/>
<rect x="303" y="275" width="1" height="39" fill="#d80032"/>
<rect x="302" y="282" width="3" height="18" fill="#d80032"/>
<rect x="305" y="290" width="1" height="18" fill="#000"/>
<rect x="304.5" y="291.5" width="2" height="9" fill="#fff" stroke="#000" stroke-width="1"/>
<rect x="308" y="282" width="1" height="12" fill="#000"/>
<rect x="307.5" y="284.5" width="2" height="7" fill="#fff" stroke="#000" stroke-width="1"/>
<rect x="311" y="273" width="1" height="19" fill="#d80032"/>
<rect x="310" y="280" width="3" height="10" fill="#d80032"/>
<rect x="313" y="290" width="1" height="31" fill="#d80032"/>
<rect x="312" y="292" width="3" height="18" fill="#d80032"/>
<rect x="316" y="306" width="1" height="24" fill="#d80032"/>
<rect x="315" y="308" width="3" height="20" fill="#d80032"/>
<rect x="318" y="316" width="1" height="14" fill="#000"/>
<rect x="317.5" y="322.5" width="2" height="4" fill="#fff" stroke="#000" stroke-width="1"/>
<rect x="321" y="316" width="1" height="17" fill="#000"/>
<rect x="320.5" y="321.5" width="2" height="4" fill="#fff" stroke="#000" stroke-width="1"/>
<rect x="324" y="321" width="1" height="12" fill="#d80032"/>
<rect x="323" y="322" width="3" height="2" fill="#d80032"/>
<rect x="326" y="324" width="1" height="8" fill="#d80032"/>
<rect x="325" y="328" width="3" height="1" fill="#d80032"/>
<rect x="329" y="327" width="1" height="23" fill="#d80032"/>
<rect x="328" y="331" width="3" height="7" fill="#d80032"/>
<rect x="331" y="334" width="1" height="10" fill="#d80032"/>
<rect x="330" y="338" width="3" height="4" fill="#d80032"/>
<rect x="334" y="341" width="1" height="21" fill="#d80032"/>
<rect x="333" y="343" width="3" height="18" fill="#d80032"/>
<rect x="337" y="359" width="1" height="19" fill="#d80032"/>
<rect x="336" y="362" width="3" height="14" fill="#d80032"/>
<rect x="339" y="369" width="1" height="9" fill="#000"/>
<rect x="338" y="376" width="3" height="1" fill="#000"/>
<rect x="342" y="372" width="1" height="10" fill="#d80032"/>
<rect x="341" y="375" width="3" height="6" fill="#d80032"/>
<rect x="344" y="376" width="1" height="6" fill="#000"/>
<rect x="343.5" y="378.5" width="2" height="2" fill="#fff" stroke="#000" stroke-width="1"/>
<rect x="347" y="376" width="1" height="9" fill="#d80032"/>
<rect x="346" y="378" width="3" height="4" fill="#d80032"/>
<rect x="350" y="368" width="1" height="18" fill="#d80032"/>
<rect x="349" y="379" width="3" height="6" fill="#d80032"/>
<rect x="352" y="374" width="1" height="20" fill="#000"/>
<rect x="351.5" y="377.5" width="2" height="8" fill="#fff" stroke="#000" stroke-width="1"/>
<rect x="355" y="373" width="1" height="11" fill="#d80032"/>
<rect x="354" y="376" width="3" height="4" fill="#d80032"/>
<rect x="357" y="356" width="1" height="31" fill="#000"/>
<rect x="356.5" y="358.5" width="2" height="19" fill="#fff" stroke="#000" stroke-width="1"/>
<rect x="360" y="348" width="1" height="26" fill="#d80032"/>
<rect x="359" y="354" width="3" height="15" fill="#d80032"/>
<rect x="363" y="367" width="1" height="13" fill="#d80032"/>
<rect x="362" y="368" width="3" height="11" fill="#d80032"/>
<rect x="365" y="371" width="1" height="15" fill="#000"/>
<rect x="364.5" y="372.5" width="2" height="7" fill="#fff" stroke="#000" stroke-width="1"/>
<rect x="368" y="370" width="1" height="23" fill="#d80032"/>
<rect x="367" y="372" width="3" height="12" fill="#d80032"/>
<rect x="370" y="358" width="1" height="33" fill="#000"/>
<rect x="369" y="368" width="3" height="17" fill="#000"/>
<rect x="373" y="365" width="1" height="29" fill="#d80032"/>
<rect x="372" y="367" width="3" height="24" fill="#d80032"/>
<rect x="376" y="385" width="1" height="10" fill="#000"/>
<rect x="375.5" y="387.5" width="2" height="4" fill="#fff" stroke="#000" stroke-width="1"/>
<rect x="378" y="372" width="1" height="22" fill="#d80032"/>
<rect x="377" y="386" width="3" height="4" fill="#d80032"/>
<rect x="381" y="392" width="1" height="20" fill="#d80032"/>
<rect x="380" y="394" width="3" height="4" fill="#d80032"/>
<rect x="384" y="397" width="1" height="17" fill="#d80032"/>
<rect x="383" y="398" width="3" height="13" fill="#d80032"/>
<rect x="386" y="408" width="1" height="9" fill="#d80032"/>
<rect x="385.5" y="412.5" width="2" height="1" fill="#fff" stroke="#d80032" stroke-width="1"/>
<rect x="389" y="411" width="1" height="11" fill="#d80032"/>
<rect x="388" y="413" width="3" height="7" fill="#d80032"/>
<rect x="391" y="419" width="1" height="6" fill="#d80032"/>
<rect x="390.5" y="421.5" width="2" height="1" fill="#fff" stroke="#d80032" stroke-width="1"/>
<rect x="394" y="419" width="1" height="7" fill="#d80032"/>
<rect x="393" y="421" width="3" height="3" fill="#d80032"/>
<rect x="397" y="417" width="1" height="18" fill="#000"/>
<rect x="396.5" y="422.5" width="2" height="1" fill="#fff" stroke="#000" stroke-width="1"/>
<rect x="399" y="407" width="1" height="24" fill="#000"/>
<rect x="398" y="413" width="3" height="9" fill="#000"/>
<rect x="402" y="407" width="1" height="13" fill="#d80032"/>
<rect x="401" y="410" width="3" height="7" fill="#d80032"/>
<rect x="404" y="409" width="1" height="14" fill="#000"/>
<rect x="403.5" y="415.5" width="2" height="2" fill="#fff" stroke="#000" stroke-width="1"/>
<rect x="407" y="409" width="1" height="14" fill="#000"/>
<rect x="406.5" y="410.5" width="2" height="4" fill="#fff" stroke="#000" stroke-width="1"/>
<rect x="410" y="406" width="1" height="16" fill="#d80032"/>
<rect x="409" y="412" width="3" height="2" fill="#d80032"/>
<rect x="412" y="411" width="1" height="11" fill="#d80032"/>
<rect x="411" y="413" width="3" height="5" fill="#d80032"/>
<rect x="415" y="403" width="1" height="20" fill="#000"/>
<rect x="414" y="411" width="3" height="4" fill="#000"/>
<rect x="417" y="391" width="1" height="30" fill="#000"/>
<rect x="416.5" y="395.5" width="2" height="15" fill="#fff" stroke="#000" stroke-width="1"/>
<rect x="420" y="392" width="1" height="9" fill="#d80032"/>
<rect x="419" y="394" width="3" height="5" fill="#d80032"/>
<rect x="423" y="394" width="1" height="6" fill="#000"/>
<rect x="422" y="396" width="3" height="1" fill="#000"/>
<rect x="425" y="379" width="1" height="25" fill="#000"/>
<rect x="424.5" y="384.5" width="2" height="14" fill="#fff" stroke="#000" stroke-width="1"/>
<rect x="428" y="376" width="1" height="15" fill="#000"/>
<rect x="427" y="383" width="3" height="3" fill="#000"/>
<rect x="430" y="376" width="1" height="23" fill="#d80032"/>
<rect x="429" y="383" width="3" height="10" fill="#d80032"/>
<rect x="433" y="389" width="1" height="17" fill="#d80032"/>
<rect x="432" y="393" width="3" height="9" fill="#d80032"/>
<rect x="436" y="396" width="1" height="15" fill="#d80032"/>
<rect x="435" y="402" width="3" height="7" fill="#d80032"/>
<rect x="438" y="405" width="1" height="6" fill="#000"/>
<rect x="437.5" y="406.5" width="2" height="2" fill="#fff" stroke="#000" stroke-width="1"/>
<rect x="441" y="400" width="1" height="32" fill="#d80032"/>
<rect x="440" y="406" width="3" height="12" fill="#d80032"/>
<rect x="444" y="413" width="1" height="10" fill="#d80032"/>
<rect x="443" y="417" width="3" height="3" fill="#d80032"/>
<rect x="446" y="410" width="1" height="21" fill="#d80032"/>
<rect x="445" y="417" width="3" height="9" fill="#d80032"/>
<rect x="449" y="421" width="1" height="9" fill="#000"/>
<rect x="448.5" y="426.5" width="2" height="1" fill="#fff" stroke="#000" stroke-width="1"/>
<rect x="451" y="415" width="1" height="14" fill="#000"/>
<rect x="450" y="422" width="3" height="5" fill="#000"/>
<rect x="454" y="412" width="1" height="12" fill="#000"/>
<rect x="453" y="416" width="3" height="7" fill="#000"/>
<rect x="457" y="387" width="1" height="36" fill="#000"/>
<rect x="456.5" y="393.5" width="2" height="24" fill="#fff" stroke="#000" stroke-width="1"/>
<rect x="459" y="388" width="1" height="10" fill="#d80032"/>
<rect x="458" y="393" width="3" height="3" fill="#d80032"/>
<rect x="462" y="388" width="1" height="8" fill="#000"/>
<rect x="461" y="391" width="3" height="3" fill="#000"/>
<rect x="464" y="381" width="1" height="14" fill="#d80032"/>
<rect x="463" y="391" width="3" height="2" fill="#d80032"/>
<rect x="467" y="385" width="1" height="15" fill="#000"/>
<rect x="466" y="387" width="3" height="10" fill="#000"/>
<rect x="470" y="376" width="1" height="24" fill="#000"/>
<rect x="469" y="383" width="3" height="3" fill="#000"/>
<rect x="472" y="380" width="1" height="24" fill="#d80032"/>
<rect x="471" y="382" width="3" height="9" fill="#d80032"/>
<rect x="475" y="384" width="1" height="12" fill="#000"/>
<rect x="474" y="386" width="3" height="6" fill="#000"/>
<rect x="477" y="374" width="1" height="15" fill="#d80032"/>
<rect x="476" y="387" width="3" height="1" fill="#d80032"/>
<rect x="480" y="366" width="1" height="27" fill="#000"/>
<rect x="479.5" y="374.5" width="2" height="14" fill="#fff" stroke="#000" stroke-width="1"/>
<rect x="483" y="374" width="1" height="24" fill="#d80032"/>
<rect x="482" y="376" width="3" height="12" fill="#d80032"/>
<rect x="485" y="383" width="1" height="12" fill="#d80032"/>
<rect x="484" y="386" width="3" height="8" fill="#d80032"/>
<rect x="488" y="385" width="1" height="14" fill="#000"/>
<rect x="487.5" y="388.5" width="2" height="7" fill="#fff" stroke="#000" stroke-width="1"/>
<rect x="490" y="377" width="1" height="14" fill="#000"/>
<rect x="489.5" y="379.5" width="2" height="8" fill="#fff" stroke="#000" stroke-width="1"/>
<rect x="493" y="376" width="1" height="8" fill="#000"/>
<rect x="492" y="377" width="3" height="1" fill="#000"/>
<rect x="496" y="359" width="1" height="23" fill="#000"/>
<rect x="495.5" y="367.5" width="2" height="12" fill="#fff" stroke="#000" stroke-width="1"/>
<rect x="498" y="356" width="1" height="16" fill="#000"/>
<rect x="497" y="367" width="3" height="3" fill="#000"/>
<rect x="501" y="363" width="1" height="10" fill="#d80032"/>
<rect x="500" y="365" width="3" height="5" fill="#d80032"/>
<rect x="503" y="369" width="1" height="7" fill="#d80032"/>
<rect x="502.5" y="372.5" width="2" height="1" fill="#fff" stroke="#d80032" stroke-width="1"/>
<rect x="506" y="363" width="1" height="10" fill="#000"/>
<rect x="505.5" y="366.5" width="2" height="5" fill="#fff" stroke="#000" stroke-width="1"/>
<rect x="509" y="361" width="1" height="19" fill="#000"/>
<rect x="508.5" y="364.5" width="2" height="3" fill="#fff" stroke="#000" stroke-width="1"/>
<rect x="511" y="351" width="1" height="17" fill="#000"/>
<rect x="510.5" y="353.5" width="2" height="12" fill="#fff" stroke="#000" stroke-width="1"/>
<rect x="514" y="337" width="1" height="28" fill="#000"/>
<rect x="513.5" y="340.5" width="2" height="11" fill="#fff" stroke="#000" stroke-width="1"/>
<rect x="517" y="330" width="1" height="18" fill="#000"/>
<rect x="516.5" y="339.5" width="2" height="1" fill="#fff" stroke="#000" stroke-width="1"/>
<rect x="519" y="324" width="1" height="20" fill="#d80032"/>
<rect x="518" y="337" width="3" height="3" fill="#d80032"/>
<rect x="522" y="331" width="1" height="10" fill="#000"/>
<rect x="521" y="337" width="3" height="2" fill="#000"/>
<rect x="524" y="328" width="1" height="16" fill="#000"/>
<rect x="523.5" y="334.5" width="2" height="4" fill="#fff" stroke="#000" stroke-width="1"/>
<rect x="527" y="330" width="1" height="11" fill="#d80032"/>
<rect x="526" y="332" width="3" height="8" fill="#d80032"/>
<rect x="530" y="337" width="1" height="12" fill="#d80032"/>
<rect x="529" y="341" width="3" height="5" fill="#d80032"/>
<rect x="532" y="342" width="1" height="10" fill="#000"/>
<rect x="531" y="345" width="3" height="1" fill="#000"/>
<rect x="535" y="341" width="1" height="11" fill="#d80032"/>
<rect x="534" y="346" width="3" height="4" fill="#d80032"/>
<rect x="537" y="342" width="1" height="10" fill="#000"/>
<rect x="536.5" y="346.5" width="2" height="2" fill="#fff" stroke="#000" stroke-width="1"/>
<rect x="540" y="325" width="1" height="32" fill="#000"/>
<rect x="539.5" y="327.5" width="2" height="19" fill="#fff" stroke="#000" stroke-width="1"/>
<rect x="543" y="324" width="1" height="22" fill="#d80032"/>
<rect x="542" y="327" width="3" height="17" fill="#d80032"/>
<rect x="545" y="336" width="1" height="14" fill="#000"/>
<rect x="544.5" y="340.5" width="2" height="8" fill="#fff" stroke="#000" stroke-width="1"/>
<rect x="548" y="334" width="1" height="9" fill="#d80032"/>
<rect x="547" y="336" width="3" height="6" fill="#d80032"/>
<rect x="550" y="331" width="1" height="12" fill="#000"/>
<rect x="549.5" y="333.5" width="2" height="7" fill="#fff" stroke="#000" stroke-width="1"/>
<rect x="553" y="301" width="1" height="42" fill="#000"/>
<rect x="552" y="306" width="3" height="27" fill="#000"/>
<rect x="556" y="297" width="1" height="13" fill="#000"/>
<rect x="555.5" y="301.5" width="2" height="4" fill="#fff" stroke="#000" stroke-width="1"/>
<rect x="558" y="296" width="1" height="16" fill="#d80032"/>
<rect x="557" y="299" width="3" height="10" fill="#d80032"/>
<rect x="561" y="290" width="1" height="22" fill="#000"/>
<rect x="560.5" y="304.5" width="2" height="5" fill="#fff" stroke="#000" stroke-width="1"/>
<rect x="563" y="301" width="1" height="9" fill="#d80032"/>
<rect x="562" y="305" width="3" height="1" fill="#d80032"/>
<rect x="566" y="290" width="1" height="18" fill="#000"/>
<rect x="565.5" y="293.5" width="2" height="12" fill="#fff" stroke="#000" stroke-width="1"/>
<rect x="569" y="279" width="1" height="16" fill="#000"/>
<rect x="568.5" y="282.5" width="2" height="9" fill="#fff" stroke="#000" stroke-width="1"/>
<rect x="571" y="262" width="1" height="25" fill="#000"/>
<rect x="570.5" y="271.5" width="2" height="14" fill="#fff" stroke="#000" stroke-width="1"/>
<rect x="574" y="243" width="1" height="33" fill="#000"/>
<rect x="573" y="244" width="3" height="26" fill="#000"/>
<rect x="576" y="233" width="1" height="14" fill="#000"/>
<rect x="575.5" y="237.5" width="2" height="8" fill="#fff" stroke="#000" stroke-width="1"/>
<rect x="579" y="228" width="1" height="20" fill="#000"/>
<rect x="578" y="231" width="3" height="5" fill="#000"/>
<rect x="582" y="219" width="1" height="31" fill="#d80032"/>
<rect x="581" y="233" width="3" height="15" fill="#d80032"/>
<rect x="584" y="243" width="1" height="25" fill="#d80032"/>
<rect x="583" y="245" width="3" height="21" fill="#d80032"/>
<rect x="587" y="248" width="1" height="21" fill="#000"/>
<rect x="586.5" y="261.5" width="2" height="1" fill="#fff" stroke="#000" stroke-width="1"/>
<rect x="590" y="230" width="1" height="37" fill="#000"/>
<rect x="589" y="235" width="3" height="25" fill="#000"/>
<rect x="592" y="232" width="1" height="10" fill="#000"/>
<rect x="591" y="233" width="3" height="2" fill="#000"/>
<rect x="595" y="233" width="1" height="14" fill="#d80032"/>
<rect x="594" y="235" width="3" height="1" fill="#d80032"/>
<rect x="597" y="226" width="1" height="11" fill="#000"/>
<rect x="596.5" y="227.5" width="2" height="7" fill="#fff" stroke="#000" stroke-width="1"/>
<rect x="600" y="199" width="1" height="33" fill="#000"/>
<rect x="599.5" y="204.5" width="2" height="21" fill="#fff" stroke="#000" stroke-width="1"/>
<rect x="603" y="175" width="1" height="34" fill="#000"/>
<rect x="602.5" y="192.5" width="2" height="11" fill="#fff" stroke="#000" stroke-width="1"/>
<rect x="605" y="190" width="1" height="20" fill="#d80032"/>
<rect x="604" y="193" width="3" height="15" fill="#d80032"/>
<rect x="608" y="205" width="1" height="13" fill="#d80032"/>
<rect x="607" y="208" width="3" height="7" fill="#d80032"/>
<rect x="610" y="193" width="1" height="27" fill="#000"/>
<rect x="609" y="207" width="3" height="7" fill="#000"/>
<rect x="613" y="207" width="1" height="12" fill="#d80032"/>
<rect x="612" y="209" width="3" height="8" fill="#d80032"/>
<rect x="616" y="173" width="1" height="49" fill="#000"/>
<rect x="615" y="187" width="3" height="29" fill="#000"/>
<rect x="618" y="178" width="1" height="14" fill="#000"/>
<rect x="617" y="181" width="3" height="6" fill="#000"/>
<rect x="621" y="170" width="1" height="14" fill="#000"/>
<rect x="620" y="173" width="3" height="9" fill="#000"/>
<rect x="623" y="169" width="1" height="9" fill="#d80032"/>
<rect x="622" y="171" width="3" height="6" fill="#d80032"/>
<rect x="626" y="163" width="1" height="13" fill="#000"/>
<rect x="625.5" y="166.5" width="2" height="6" fill="#fff" stroke="#000" stroke-width="1"/>
<rect x="629" y="124" width="1" height="48" fill="#000"/>
<rect x="628.5" y="132.5" width="2" height="33" fill="#fff" stroke="#000" stroke-width="1"/>
<rect x="631" y="110" width="1" height="33" fill="#d80032"/>
<rect x="630" y="130" width="3" height="11" fill="#d80032"/>
<rect x="634" y="127" width="1" height="17" fill="#000"/>
<rect x="633.5" y="135.5" width="2" height="6" fill="#fff" stroke="#000" stroke-width="1"/>
<rect x="636" y="126" width="1" height="15" fill="#000"/>
<rect x="635.5" y="128.5" width="2" height="5" fill="#fff" stroke="#000" stroke-width="1"/>
<rect x="639" y="123" width="1" height="25" fill="#d80032"/>
<rect x="638" y="127" width="3" height="19" fill="#d80032"/>
<rect x="642" y="148" width="1" height="13" fill="#d80032"/>
<rect x="641" y="150" width="3" height="8" fill="#d80032"/>
<rect x="644" y="154" width="1" height="6" fill="#000"/>
<rect x="643" y="156" width="3" height="1" fill="#000"/>
<rect x="647" y="151" width="1" height="64" fill="#d80032"/>
<rect x="646" y="153" width="3" height="48" fill="#d80032"/>
<rect x="649" y="200" width="1" height="7" fill="#d80032"/>
<rect x="648" y="201" width="3" height="3" fill="#d80032"/>
<rect x="652" y="195" width="1" height="27" fill="#d80032"/>
<rect x="651" y="205" width="3" height="7" fill="#d80032"/>
<rect x="655" y="200" width="1" height="30" fill="#d80032"/>
<rect x="654" y="212" width="3" height="15" fill="#d80032"/>
<rect x="657" y="219" width="1" height="21" fill="#d80032"/>
<rect x="656" y="221" width="3" height="7" fill="#d80032"/>
<rect x="660" y="222" width="1" height="14" fill="#d80032"/>
<rect x="659" y="228" width="3" height="5" fill="#d80032"/>
<rect x="663" y="230" width="1" height="13" fill="#d80032"/>
<rect x="662" y="233" width="3" height="7" fill="#d80032"/>
<rect x="665" y="236" width="1" height="7" fill="#000"/>
<rect x="664" y="238" width="3" height="2" fill="#000"/>
<rect x="668" y="225" width="1" height="21" fill="#d80032"/>
<rect x="667" y="238" width="3" height="7" fill="#d80032"/>
<rect x="670" y="243" width="1" height="27" fill="#d80032"/>
<rect x="669" y="246" width="3" height="16" fill="#d80032"/>
<rect x="673" y="254" width="1" height="15" fill="#d80032"/>
<rect x="672" y="262" width="3" height="3" fill="#d80032"/>
<rect x="676" y="263" width="1" height="15" fill="#d80032"/>
<rect x="675.5" y="266.5" width="2" height="1" fill="#fff" stroke="#d80032" stroke-width="1"/>
<rect x="678" y="252" width="1" height="27" fill="#000"/>
<rect x="677.5" y="254.5" width="2" height="12" fill="#fff" stroke="#000" stroke-width="1"/>
<rect x="681" y="243" width="1" height="19" fill="#000"/>
<rect x="680" y="246" width="3" height="8" fill="#000"/>
<rect x="683" y="234" width="1" height="13" fill="#000"/>
<rect x="682" y="241" width="3" height="5" fill="#000"/>
<rect x="686" y="214" width="1" height="30" fill="#000"/>
<rect x="685.5" y="225.5" width="2" height="16" fill="#fff" stroke="#000" stroke-width="1"/>
<rect x="689" y="218" width="1" height="20" fill="#d80032"/>
<rect x="688" y="225" width="3" height="3" fill="#d80032"/>
<rect x="691" y="214" width="1" height="24" fill="#d80032"/>
<rect x="690" y="227" width="3" height="6" fill="#d80032"/>
<rect x="694" y="232" width="1" height="20" fill="#d80032"/>
<rect x="693" y="235" width="3" height="11" fill="#d80032"/>
<rect x="696" y="244" width="1" height="16" fill="#d80032"/>
<rect x="695" y="245" width="3" height="8" fill="#d80032"/>
<rect x="699" y="243" width="1" height="21" fill="#d80032"/>
<rect x="698" y="254" width="3" height="5" fill="#d80032"/>
<rect x="702" y="257" width="1" height="10" fill="#d80032"/>
<rect x="701" y="259" width="3" height="5" fill="#d80032"/>
<rect x="704" y="250" width="1" height="32" fill="#d80032"/>
<rect x="703" y="264" width="3" height="5" fill="#d80032"/>
<rect x="707" y="264" width="1" height="9" fill="#d80032"/>
<rect x="706" y="268" width="3" height="2" fill="#d80032"/>
<rect x="709" y="259" width="1" height="16" fill="#d80032"/>
<rect x="708" y="271" width="3" height="2" fill="#d80032"/>
<rect x="712" y="266" width="1" height="16" fill="#d80032"/>
<rect x="711" y="274" width="3" height="1" fill="#d80032"/>
<rect x="715" y="252" width="1" height="22" fill="#000"/>
<rect x="714" y="256" width="3" height="16" fill="#000"/>
<rect x="717" y="240" width="1" height="17" fill="#000"/>
<rect x="716.5" y="247.5" width="2" height="8" fill="#fff" stroke="#000" stroke-width="1"/>
<rect x="720" y="234" width="1" height="22" fill="#000"/>
<rect x="719" y="236" width="3" height="13" fill="#000"/>
<rect x="722" y="230" width="1" height="13" fill="#d80032"/>
<rect x="721" y="236" width="3" height="2" fill="#d80032"/>
<rect x="725" y="237" width="1" height="25" fill="#d80032"/>
<rect x="724" y="239" width="3" height="9" fill="#d80032"/>
<rect x="728" y="250" width="1" height="12" fill="#d80032"/>
<rect x="727" y="252" width="3" height="9" fill="#d80032"/>
<rect x="730" y="254" width="1" height="7" fill="#000"/>
<rect x="729.5" y="255.5" width="2" height="1" fill="#fff" stroke="#000" stroke-width="1"/>
<rect x="733" y="253" width="1" height="8" fill="#d80032"/>
<rect x="732" y="255" width="3" height="2" fill="#d80032"/>
<rect x="736" y="251" width="1" height="22" fill="#d80032"/>
<rect x="735" y="256" width="3" height="12" fill="#d80032"/>
<rect x="738" y="262" width="1" height="23" fill="#d80032"/>
<rect x="737" y="267" width="3" height="17" fill="#d80032"/>
<rect x="741" y="272" width="1" height="26" fill="#000"/>
<rect x="740" y="280" width="3" height="2" fill="#000"/>
<rect x="743" y="265" width="1" height="17" fill="#000"/>
<rect x="742" y="271" width="3" height="9" fill="#000"/>
<rect x="746" y="256" width="1" height="17" fill="#000"/>
<rect x="745.5" y="258.5" width="2" height="12" fill="#fff" stroke="#000" stroke-width="1"/>
<rect x="749" y="247" width="1" height="16" fill="#000"/>
<rect x="748.5" y="251.5" width="2" height="8" fill="#fff" stroke="#000" stroke-width="1"/>
<rect x="751" y="244" width="1" height="24" fill="#000"/>
<rect x="750" y="247" width="3" height="7" fill="#000"/>
<rect x="754" y="230" width="1" height="21" fill="#000"/>
<rect x="753.5" y="237.5" width="2" height="8" fill="#fff" stroke="#000" stroke-width="1"/>
<rect x="756" y="218" width="1" height="21" fill="#000"/>
<rect x="755" y="232" width="3" height="5" fill="#000"/>
<rect x="759" y="220" width="1" height="20" fill="#000"/>
<rect x="758" y="228" width="3" height="1" fill="#000"/>
<rect x="762" y="225" width="1" height="6" fill="#000"/>
<rect x="761" y="227" width="3" height="2" fill="#000"/>
<rect x="764" y="208" width="1" height="24" fill="#000"/>
<rect x="763.5" y="222.5" width="2" height="4" fill="#fff" stroke="#000" stroke-width="1"/>
<rect x="767" y="204" width="1" height="22" fill="#000"/>
<rect x="766.5" y="216.5" width="2" height="6" fill="#fff" stroke="#000" stroke-width="1"/>
<rect x="769" y="200" width="1" height="24" fill="#000"/>
<rect x="768.5" y="215.5" width="2" height="1" fill="#fff" stroke="#000" stroke-width="1"/>
<rect x="772" y="196" width="1" height="19" fill="#000"/>
<rect x="771.5" y="208.5" width="2" height="5" fill="#fff" stroke="#000" stroke-width="1"/>
<rect x="775" y="204" width="1" height="11" fill="#d80032"/>
<rect x="774" y="206" width="3" height="6" fill="#d80032"/>
<rect x="777" y="207" width="1" height="6" fill="#000"/>
<rect x="776" y="209" width="3" height="2" fill="#000"/>
<rect x="780" y="203" width="1" height="25" fill="#d80032"/>
<rect x="779" y="209" width="3" height="17" fill="#d80032"/>
<rect x="782" y="218" width="1" height="13" fill="#000"/>
<rect x="781" y="219" width="3" height="9" fill="#000"/>
<rect x="785" y="216" width="1" height="22" fill="#d80032"/>
<rect x="784" y="219" width="3" height="17" fill="#d80032"/>
<rect x="788" y="228" width="1" height="20" fill="#d80032"/>
<rect x="787" y="235" width="3" height="9" fill="#d80032"/>
<rect x="790" y="242" width="1" height="7" fill="#d80032"/>
<rect x="789" y="245" width="3" height="1" fill="#d80032"/>
<rect x="793" y="236" width="1" height="11" fill="#000"/>
<rect x="792.5" y="241.5" width="2" height="4" fill="#fff" stroke="#000" stroke-width="1"/>
<rect x="795" y="239" width="1" height="24" fill="#d80032"/>
<rect x="794" y="242" width="3" height="18" fill="#d80032"/>
<rect x="798" y="260" width="1" height="25" fill="#d80032"/>
<rect x="797" y="263" width="3" height="9" fill="#d80032"/>
<rect x="801" y="269" width="1" height="15" fill="#d80032"/>
<rect x="800" y="271" width="3" height="2" fill="#d80032"/>
<rect x="803" y="252" width="1" height="37" fill="#000"/>
<rect x="802.5" y="261.5" width="2" height="13" fill="#fff" stroke="#000" stroke-width="1"/>
<rect x="806" y="254" width="1" height="9" fill="#000"/>
<rect x="805.5" y="256.5" width="2" height="4" fill="#fff" stroke="#000" stroke-width="1"/>
<rect x="809" y="248" width="1" height="10" fill="#000"/>
<rect x="808.5" y="250.5" width="2" height="5" fill="#fff" stroke="#000" stroke-width="1"/>
<rect x="811" y="244" width="1" height="8" fill="#000"/>
<rect x="810.5" y="247.5" width="2" height="2" fill="#fff" stroke="#000" stroke-width="1"/>
<rect x="814" y="239" width="1" height="10" fill="#000"/>
<rect x="813.5" y="240.5" width="2" height="6" fill="#fff" stroke="#000" stroke-width="1"/>
<rect x="816" y="231" width="1" height="10" fill="#000"/>
<rect x="815" y="238" width="3" height="1" fill="#000"/>
<rect x="819" y="226" width="1" height="20" fill="#000"/>
<rect x="818" y="236" width="3" height="1" fill="#000"/>
<rect x="822" y="233" width="1" height="16" fill="#d80032"/>
<rect x="821" y="234" width="3" height="6" fill="#d80032"/>
<rect x="824" y="234" width="1" height="10" fill="#d80032"/>
<rect x="823" y="238" width="3" height="2" fill="#d80032"/>
<rect x="827" y="237" width="1" height="22" fill="#d80032"/>
<rect x="826" y="239" width="3" height="15" fill="#d80032"/>
<rect x="829" y="247" width="1" height="12" fill="#000"/>
<rect x="828.5" y="250.5" width="2" height="3" fill="#fff" stroke="#000" stroke-width="1"/>
<rect x="832" y="235" width="1" height="16" fill="#000"/>
<rect x="831" y="235" width="3" height="16" fill="#000"/>
</g>
<rect x="275.8" y="222.5" width="571.8" height="14" rx="8" ry="7" fill="rgb(50,120,210)" fill-opacity="0.2" stroke="rgb(50,120,210)" stroke-opacity="0.25" stroke-width="2"/>
<rect x="832" y="230" width="5" height="6" fill="#e8e85a"/><circle cx="834.5" cy="233" r="1.5" fill="#000"/>
<g font-family="&quot;Liberation Sans&quot;, sans-serif" font-size="9.5" fill="#000">
<rect x="4.5" y="450.5" width="25.0" height="9.0" fill="#fff" stroke="#c8c8c8" stroke-width="1"/>
<polyline points="13.2,450.5 18.2,445.7 23.2,450.5" fill="#fff" stroke="#c8c8c8" stroke-width="1"/>
<rect x="13.7" y="449.9" width="9" height="1.2" fill="#fff"/>
<text x="17.2" y="459.0" text-anchor="middle" font-size="9.6" stroke="#000" stroke-width="0.12" textLength="22.0" lengthAdjust="spacingAndGlyphs">88.53</text>
<rect x="273.5" y="222.5" width="31.0" height="10.0" fill="#fff" stroke="#c8c8c8" stroke-width="1"/>
<polyline points="284.3,232.5 289.3,237.3 294.3,232.5" fill="#fff" stroke="#c8c8c8" stroke-width="1"/>
<rect x="284.8" y="231.9" width="9" height="1.2" fill="#fff"/>
<text x="289.0" y="231.2" text-anchor="middle" font-size="9.6" stroke="#000" stroke-width="0.12" textLength="27.3" lengthAdjust="spacingAndGlyphs">103.96</text>
<rect x="270.5" y="365.5" width="26.0" height="10.0" fill="#fff" stroke="#c8c8c8" stroke-width="1"/>
<polyline points="279.5,365.5 284.5,360.1 289.5,365.5" fill="#fff" stroke="#c8c8c8" stroke-width="1"/>
<rect x="280.0" y="364.9" width="9" height="1.2" fill="#fff"/>
<text x="283.4" y="374.2" text-anchor="middle" font-size="9.6" stroke="#000" stroke-width="0.12" textLength="22.1" lengthAdjust="spacingAndGlyphs">94.61</text>
<rect x="415.5" y="359.5" width="25.0" height="10.0" fill="#fff" stroke="#c8c8c8" stroke-width="1"/>
<polyline points="423.7,369.5 428.7,374.9 433.7,369.5" fill="#fff" stroke="#c8c8c8" stroke-width="1"/>
<rect x="424.2" y="368.9" width="9" height="1.2" fill="#fff"/>
<text x="427.6" y="368.2" text-anchor="middle" font-size="9.6" stroke="#000" stroke-width="0.12" textLength="21.6" lengthAdjust="spacingAndGlyphs">93.47</text>
<rect x="382.5" y="441.5" width="26.0" height="10.0" fill="#fff" stroke="#c8c8c8" stroke-width="1"/>
<polyline points="391.4,441.5 396.4,435.8 401.4,441.5" fill="#fff" stroke="#c8c8c8" stroke-width="1"/>
<rect x="391.9" y="440.9" width="9" height="1.2" fill="#fff"/>
<text x="395.6" y="450.2" text-anchor="middle" font-size="9.6" stroke="#000" stroke-width="0.12" textLength="21.6" lengthAdjust="spacingAndGlyphs">89.17</text>
<rect x="434.5" y="436.5" width="26.0" height="9.0" fill="#fff" stroke="#c8c8c8" stroke-width="1"/>
<polyline points="443.1,436.5 448.1,430.8 453.1,436.5" fill="#fff" stroke="#c8c8c8" stroke-width="1"/>
<rect x="443.6" y="435.9" width="9" height="1.2" fill="#fff"/>
<text x="447.6" y="444.9" text-anchor="middle" font-size="9.6" stroke="#000" stroke-width="0.12" textLength="21.6" lengthAdjust="spacingAndGlyphs">89.51</text>
<rect x="586.5" y="159.5" width="31.0" height="10.0" fill="#fff" stroke="#c8c8c8" stroke-width="1"/>
<polyline points="597.5,169.5 602.5,174.4 607.5,169.5" fill="#fff" stroke="#c8c8c8" stroke-width="1"/>
<rect x="598.0" y="168.9" width="9" height="1.2" fill="#fff"/>
<text x="602.0" y="168.2" text-anchor="middle" font-size="9.6" stroke="#000" stroke-width="0.12" textLength="27.1" lengthAdjust="spacingAndGlyphs">109.14</text>
<rect x="615.5" y="94.5" width="31.0" height="10.0" fill="#fff" stroke="#c8c8c8" stroke-width="1"/>
<polyline points="626.4,104.5 631.4,109.4 636.4,104.5" fill="#fff" stroke="#c8c8c8" stroke-width="1"/>
<rect x="626.9" y="103.9" width="9" height="1.2" fill="#fff"/>
<text x="631.0" y="103.1" text-anchor="middle" font-size="9.6" stroke="#000" stroke-width="0.12" textLength="26.9" lengthAdjust="spacingAndGlyphs">114.75</text>
<rect x="675.5" y="198.5" width="30.0" height="10.0" fill="#fff" stroke="#c8c8c8" stroke-width="1"/>
<polyline points="686.3,208.5 691.3,213.3 696.3,208.5" fill="#fff" stroke="#c8c8c8" stroke-width="1"/>
<rect x="686.8" y="207.9" width="9" height="1.2" fill="#fff"/>
<text x="690.8" y="207.2" text-anchor="middle" font-size="9.6" stroke="#000" stroke-width="0.12" textLength="26.6" lengthAdjust="spacingAndGlyphs">105.87</text>
<rect x="706.5" y="214.5" width="31.0" height="9.0" fill="#fff" stroke="#c8c8c8" stroke-width="1"/>
<polyline points="717.2,223.5 722.2,228.8 727.2,223.5" fill="#fff" stroke="#c8c8c8" stroke-width="1"/>
<rect x="717.7" y="222.9" width="9" height="1.2" fill="#fff"/>
<text x="722.1" y="222.4" text-anchor="middle" font-size="9.6" stroke="#000" stroke-width="0.12" textLength="26.9" lengthAdjust="spacingAndGlyphs">104.61</text>
<rect x="753.5" y="184.5" width="31.0" height="10.0" fill="#fff" stroke="#c8c8c8" stroke-width="1"/>
<polyline points="764.4,194.5 769.4,199.7 774.4,194.5" fill="#fff" stroke="#c8c8c8" stroke-width="1"/>
<rect x="764.9" y="193.9" width="9" height="1.2" fill="#fff"/>
<text x="769.0" y="193.3" text-anchor="middle" font-size="9.6" stroke="#000" stroke-width="0.12" textLength="26.9" lengthAdjust="spacingAndGlyphs">107.05</text>
<rect x="803.5" y="210.5" width="31.0" height="10.0" fill="#fff" stroke="#c8c8c8" stroke-width="1"/>
<polyline points="814.4,220.5 819.4,225.3 824.4,220.5" fill="#fff" stroke="#c8c8c8" stroke-width="1"/>
<rect x="814.9" y="219.9" width="9" height="1.2" fill="#fff"/>
<text x="819.0" y="219.1" text-anchor="middle" font-size="9.6" stroke="#000" stroke-width="0.12" textLength="27.0" lengthAdjust="spacingAndGlyphs">104.88</text>
<rect x="663.5" y="285.5" width="30.0" height="9.0" fill="#fff" stroke="#c8c8c8" stroke-width="1"/>
<polyline points="673.3,285.5 678.3,280 683.3,285.5" fill="#fff" stroke="#c8c8c8" stroke-width="1"/>
<rect x="673.8" y="284.9" width="9" height="1.2" fill="#fff"/>
<text x="678.2" y="293.8" text-anchor="middle" font-size="9.6" stroke="#000" stroke-width="0.12" textLength="26.6" lengthAdjust="spacingAndGlyphs">100.68</text>
<rect x="726.5" y="304.5" width="26.0" height="9.0" fill="#fff" stroke="#c8c8c8" stroke-width="1"/>
<polyline points="735.3,304.5 740.3,299.1 745.3,304.5" fill="#fff" stroke="#c8c8c8" stroke-width="1"/>
<rect x="735.8" y="303.9" width="9" height="1.2" fill="#fff"/>
<text x="739.5" y="312.9" text-anchor="middle" font-size="9.6" stroke="#000" stroke-width="0.12" textLength="21.7" lengthAdjust="spacingAndGlyphs">99.22</text>
<rect x="784.5" y="290.5" width="30.0" height="9.0" fill="#fff" stroke="#c8c8c8" stroke-width="1"/>
<polyline points="795,290.5 800,284.4 805,290.5" fill="#fff" stroke="#c8c8c8" stroke-width="1"/>
<rect x="795.5" y="289.9" width="9" height="1.2" fill="#fff"/>
<text x="799.8" y="298.4" text-anchor="middle" font-size="9.6" stroke="#000" stroke-width="0.12" textLength="26.1" lengthAdjust="spacingAndGlyphs">100.32</text>
</g>
<line x1="329.6" y1="281.3" x2="388.7" y2="349.7" stroke="#ff0000" stroke-width="2.4"/>
<polygon points="383.9,353.4 396.9,358.8 393.5,346" fill="#ff0000"/>
<line x1="649.3" y1="129.3" x2="700.4" y2="211.2" stroke="#ff0000" stroke-width="2.4"/>
<polygon points="696,214.8 708.2,220.7 704.7,207.7" fill="#ff0000"/>
<line x1="501.5" y1="420.6" x2="606.5" y2="280.2" stroke="#6aaa4f" stroke-width="2.4"/>
<polygon points="601.9,276.9 614,271.2 611.2,283.5" fill="#6aaa4f"/>
<path d="M641.7,276.6 Q739.5,341.2 837.3,276.6" fill="none" stroke="#000" stroke-width="2.3"/>
<polygon points="852,232.8 858,227.0 890.8,227.0 890.8,238.60000000000002 858,238.60000000000002" fill="#fff" stroke="#000" stroke-width="1.4"/>
<text x="888.8" y="236.6" text-anchor="end" font-family="&quot;Liberation Sans&quot;, sans-serif" font-weight="bold" font-size="10.6" stroke="#000" stroke-width="0.35">104.31</text>
<g font-family="&quot;Liberation Sans&quot;, sans-serif" font-size="10" fill="#000">
<rect x="854" y="589" width="3" height="1" fill="#b8b8b8"/>
<text x="883" y="591.3" text-anchor="end" font-size="9.3" textLength="14.5" lengthAdjust="spacingAndGlyphs">0%</text>
<rect x="854" y="568" width="3" height="1" fill="#b8b8b8"/>
<text x="883" y="571.0" text-anchor="end" font-size="9.3" textLength="20.6" lengthAdjust="spacingAndGlyphs">20%</text>
<rect x="854" y="548" width="3" height="1" fill="#b8b8b8"/>
<text x="883" y="550.7" text-anchor="end" font-size="9.3" textLength="20.6" lengthAdjust="spacingAndGlyphs">40%</text>
<rect x="854" y="528" width="3" height="1" fill="#b8b8b8"/>
<text x="883" y="530.4" text-anchor="end" font-size="9.3" textLength="20.6" lengthAdjust="spacingAndGlyphs">60%</text>
<rect x="854" y="508" width="3" height="1" fill="#b8b8b8"/>
<text x="883" y="510.1" text-anchor="end" font-size="9.3" textLength="20.6" lengthAdjust="spacingAndGlyphs">80%</text>
<rect x="854" y="597" width="2" height="1" fill="#b8b8b8"/>
<rect x="854" y="593" width="2" height="1" fill="#b8b8b8"/>
<rect x="854" y="585" width="2" height="1" fill="#b8b8b8"/>
<rect x="854" y="581" width="2" height="1" fill="#b8b8b8"/>
<rect x="854" y="577" width="2" height="1" fill="#b8b8b8"/>
<rect x="854" y="572" width="2" height="1" fill="#b8b8b8"/>
<rect x="854" y="564" width="2" height="1" fill="#b8b8b8"/>
<rect x="854" y="560" width="2" height="1" fill="#b8b8b8"/>
<rect x="854" y="556" width="2" height="1" fill="#b8b8b8"/>
<rect x="854" y="552" width="2" height="1" fill="#b8b8b8"/>
<rect x="854" y="544" width="2" height="1" fill="#b8b8b8"/>
<rect x="854" y="540" width="2" height="1" fill="#b8b8b8"/>
<rect x="854" y="536" width="2" height="1" fill="#b8b8b8"/>
<rect x="854" y="532" width="2" height="1" fill="#b8b8b8"/>
<rect x="854" y="524" width="2" height="1" fill="#b8b8b8"/>
<rect x="854" y="520" width="2" height="1" fill="#b8b8b8"/>
<rect x="854" y="516" width="2" height="1" fill="#b8b8b8"/>
<rect x="854" y="512" width="2" height="1" fill="#b8b8b8"/>
<rect x="854" y="503" width="2" height="1" fill="#b8b8b8"/>
<rect x="854" y="499" width="2" height="1" fill="#b8b8b8"/>
<rect x="854" y="495" width="2" height="1" fill="#b8b8b8"/>
<rect x="854" y="491" width="2" height="1" fill="#b8b8b8"/>
</g>
<polyline points="16.8,587.4 18.3,586.7 21.4,589.5 26.1,586.3 30.8,586.3 34.7,584.3 39.3,584.3 44.8,582.0 47.9,582.3 52.5,584.3 57.2,581.2 61.9,580.7 65.8,579.2 68.9,580.1 73.5,578.1 76.7,577.0 79.8,578.1 84.4,576.1 88.3,577.3 91.4,582.0 94.5,582.3 97.6,586.3 102.3,582.0 105.4,583.5 107.8,588.2 110.6,582.3 113.2,588.5 115.5,589.8 117.9,596.0 121.8,592.9 124.9,591.6 128.8,586.7 135.8,585.4 140.4,582.0 144.3,581.7 147.4,583.9 150.0,580.4 152.3,581.2 156.2,577.6 161.7,577.3 164.8,575.5 167.9,575.8 171.8,578.9 174.9,580.1 177.7,583.2 181.1,578.1 185.0,575.8 188.1,575.0 192.0,572.7 195.9,574.2 198.2,572.7 201.3,576.5 205.2,577.0 209.1,579.2 212.2,576.1 216.9,573.0 220.8,573.4 224.7,575.5 229.3,574.2 234.8,570.8 239.4,568.8 243.3,569.5 245.6,567.7 249.5,567.2 253.4,564.6 258.1,564.1 263.5,560.2 266.6,561.0 269.8,564.1 272.1,559.9 274.4,558.4 276.7,560.2 279.1,575.0 282.2,574.2 287.3,600.3 289.7,591.8 292.5,593.3 295.9,580.9 298.2,578.1 302.4,580.1 305.2,576.5 308.3,578.1 313.0,571.9 316.1,565.6 318.4,571.2 321.5,569.7 323.6,573.1 327.0,567.7 331.7,564.1 334.8,564.1 339.4,559.4 343.3,557.9 347.2,553.7 351.1,558.3 354.2,559.9 357.3,561.4 360.4,559.1 362.8,554.4 365.9,554.1 369.0,555.7 370.5,562.2 373.6,552.1 376.0,550.1 378.3,551.3 383.0,545.9 386.9,547.4 390.0,545.4 393.1,544.3 396.2,540.4 400.1,543.2 402.4,540.7 404.4,545.4 409.4,536.5 412.5,537.3 415.6,541.7 419.5,536.5 422.3,537.0 425.4,534.3 427.8,533.2 430.9,528.1 434.0,526.5 438.7,526.5 441.8,524.5 445.7,527.3 449.5,525.0 453.4,524.2 456.5,527.3 462.0,519.5 466.7,520.3 469.8,517.7 472.9,518.3 476.8,515.7 480.7,516.1 483.8,513.0 485.3,512.6 489.2,515.7 493.1,515.7 496.2,519.5 500.1,517.2 504.8,511.0 508.6,506.3 514.1,506.3 516.4,510.2 519.5,512.6 521.9,505.6 524.2,509.4 528.9,504.8 532.0,507.1 535.1,508.7 537.4,518.0 542.9,514.1 549.1,520.3 551.4,518.0 555.3,525.0 558.1,515.7 562.0,512.1 565.9,514.1 569.8,520.3 573.7,527.3 576.8,528.9 579.9,532.8 581.7,537.0 584.5,527.3 587.7,529.7 592.3,546.0 594.7,537.4 597.8,540.1 600.9,537.4 602.4,539.5 605.5,535.9 608.7,528.9 611.0,527.3 613.8,522.7 615.7,524.2 618.8,531.2 621.6,535.9 623.4,531.7 626.5,539.0 628.9,546.8 632.0,550.3 634.3,548.8 636.6,549.9 641.3,537.4 644.4,542.1 647.5,535.1 649.9,535.1 653.8,531.7 657.6,537.4 662.3,540.1 665.4,540.1 670.1,533.5 673.2,534.3 677.9,528.6 683.3,530.4 686.4,535.1 688.7,532.3 691.7,539.3 695.7,536.3 699.4,529.5 704.2,528.2 708.9,527.6 713.6,528.7 718.3,526.3 723.1,522.5 724.9,522.5 727.4,517.8 730.0,520.6 733.4,516.8 735.3,518.7 739.1,513.6 743.8,510.2 747.6,515.0 751.4,519.7 756.1,513.6 760.8,516.3 765.6,521.9 772.2,520.0 777.3,529.5 780.7,519.7 787.3,512.1 792.9,509.3 796.7,504.6 800.5,503.6 803.3,506.4 809.0,499.8 814.7,494.2 818.4,493.6 823.2,488.5 826.9,487.9 829.8,489.4 832.6,484.7" fill="none" stroke="#000" stroke-width="1.8" stroke-linejoin="round"/>
<rect x="19" y="483.5" width="9" height="2" fill="#000"/>
<text x="31.8" y="488.1" font-family="&quot;Liberation Sans&quot;, sans-serif" font-size="10.6" textLength="80.3" lengthAdjust="spacing">$SPX 102.23%</text>
<line x1="527" y1="503" x2="814" y2="503" stroke="#8800ff" stroke-width="2.2"/>
<polygon points="813,496.7 825,503.3 813,508.9" fill="#8800ff"/>
<line x1="350" y1="585.2" x2="466.2" y2="537.9" stroke="#6aaa4f" stroke-width="2.4"/>
<polygon points="464.3,532 477.9,534.3 468.2,543.7" fill="#6aaa4f"/>
<line x1="795.4" y1="540.4" x2="832.6" y2="509.2" stroke="#6aaa4f" stroke-width="2.4"/>
<polygon points="828.9,504.6 843,502.1 836.4,513.9" fill="#6aaa4f"/>
<polygon points="851.5,484 857.5,478.7 898.5,478.7 898.5,489.3 857.5,489.3" fill="#fff" stroke="#000" stroke-width="1.2"/>
<text x="896.5" y="488.1" text-anchor="end" font-family="&quot;Liberation Sans&quot;, sans-serif" font-weight="bold" font-size="11.5" stroke="#000" stroke-width="0.35" textLength="39.0" lengthAdjust="spacingAndGlyphs">102.23%</text>
<g font-family="&quot;Liberation Sans&quot;, sans-serif" font-size="10" fill="#000">
<rect x="854" y="615" width="3" height="1" fill="#b8b8b8"/>
<text x="880" y="618.0" text-anchor="end" font-size="9.3" textLength="20.6" lengthAdjust="spacingAndGlyphs">50%</text>
<rect x="854" y="631" width="3" height="1" fill="#b8b8b8"/>
<text x="880" y="634.1" text-anchor="end" font-size="9.3" textLength="20.6" lengthAdjust="spacingAndGlyphs">40%</text>
<rect x="854" y="648" width="3" height="1" fill="#b8b8b8"/>
<text x="880" y="650.2" text-anchor="end" font-size="9.3" textLength="20.6" lengthAdjust="spacingAndGlyphs">30%</text>
<rect x="854" y="664" width="3" height="1" fill="#b8b8b8"/>
<text x="880" y="666.2" text-anchor="end" font-size="9.3" textLength="20.6" lengthAdjust="spacingAndGlyphs">20%</text>
<rect x="854" y="680" width="3" height="1" fill="#b8b8b8"/>
<text x="880" y="682.3" text-anchor="end" font-size="9.3" textLength="20.6" lengthAdjust="spacingAndGlyphs">10%</text>
<rect x="854" y="696" width="3" height="1" fill="#b8b8b8"/>
<text x="880" y="698.4" text-anchor="end" font-size="9.3" textLength="14.5" lengthAdjust="spacingAndGlyphs">0%</text>
<rect x="854" y="728" width="3" height="1" fill="#b8b8b8"/>
<text x="880" y="730.6" text-anchor="end" font-size="9.3" textLength="26.0" lengthAdjust="spacingAndGlyphs">-20%</text>
</g>
<polyline points="17.0,694.8 18.8,693.5 23.6,694.4 26.4,698.2 32.1,695.9 33.9,696.3 37.2,698.9 42.4,694.8 45.3,695.3 50.0,694.4 53.8,691.9 56.6,691.0 64.2,695.7 68.9,693.5 73.2,691.0 78.3,695.7 82.1,697.2 84.9,698.6 86.8,697.6 89.7,703.3 91.6,701.4 95.3,702.3 97.6,700.4 99.7,704.2 104.8,700.4 109.5,699.5 112.3,695.3 115.2,695.2 118.0,691.0 122.7,690.1 128.4,693.3 132.2,691.0 138.8,689.5 141.6,690.6 143.5,693.3 146.3,690.1 149.2,689.1 152.0,685.0 154.8,683.4 159.6,687.2 164.3,686.8 167.1,685.7 170.9,683.1 175.6,679.7 178.1,674.4 185.7,674.2 189.4,673.3 193.2,676.5 197.9,674.2 202.7,663.8 206.4,653.4 211.2,652.5 214.0,653.8 216.3,666.3 219.7,659.5 221.9,658.7 224.4,653.8 228.2,660.6 231.9,663.3 235.2,660.6 237.6,668.2 241.4,663.8 245.2,660.6 248.9,663.3 250.8,662.5 254.0,665.7 256.5,664.8 259.3,661.4 263.1,663.3 268.8,652.5 271.6,654.4 274.4,653.1 278.2,641.2 282.9,622.3 284.8,640.2 287.7,632.7 289.6,620.4 292.4,619.4 295.6,623.2 300.5,616.6 305.6,625.1 308.4,621.7 313.2,626.1 316.4,636.1 318.8,627.9 321.3,627.4 323.6,623.6 326.4,625.1 330.2,621.0 333.0,619.4 336.4,614.2 339.6,616.6 342.4,625.1 344.7,621.7 347.5,628.2 352.6,623.6 355.4,625.1 357.8,622.3 360.1,624.7 362.9,629.3 365.4,627.4 369.6,633.0 373.3,630.4 375.6,632.3 378.6,627.4 381.3,629.3 383.7,636.4 386.6,631.7 390.0,634.2 394.5,632.3 396.4,641.2 399.8,639.8 404.5,640.2 411.1,650.0 413.4,652.5 415.8,653.8 418.7,659.5 422.4,664.4 426.2,661.0 430.9,660.1 435.7,656.3 439.4,658.2 441.3,657.2 443.6,660.6 448.0,659.1 452.7,655.0 456.4,648.7 459.3,653.1 463.1,647.4 467.8,644.0 472.5,642.1 475.7,644.4 480.6,640.2 483.8,642.5 489.5,643.1 494.2,646.8 498.4,652.5 501.8,648.7 504.0,649.3 508.4,641.7 511.2,644.2 514.7,642.0 519.1,634.1 521.7,642.0 524.2,638.6 527.4,642.0 529.3,642.9 532.7,651.1 535.5,651.4 538.0,649.2 540.2,650.0 543.1,655.2 546.8,656.2 549.7,656.7 551.2,658.6 553.8,653.7 556.3,660.9 558.7,662.8 561.4,670.0 563.8,664.7 568.6,680.7 571.4,682.0 574.2,683.2 576.5,691.1 579.5,687.7 581.8,684.5 584.6,683.6 589.3,690.7 593.1,693.4 594.6,693.4 597.8,688.3 600.3,692.1 602.6,687.3 606.0,684.5 610.1,686.4 613.9,689.2 616.2,691.1 618.6,690.7 623.3,697.7 628.1,701.5 631.8,707.2 634.7,709.1 639.4,720.4 641.8,714.7 644.5,717.9 651.7,705.8 654.5,699.6 657.3,700.6 660.2,698.7 662.6,705.3 665.3,709.1 667.7,701.5 670.6,699.6 675.0,699.5 678.4,698.6 682.6,704.2 686.7,707.1 692.0,700.1 694.8,698.2 698.6,698.2 701.4,695.7 704.8,700.8 707.1,701.4 709.4,698.6 714.7,702.0 718.1,706.1 721.3,706.1 724.1,704.2 727.5,703.8 731.7,702.0 733.9,702.0 735.8,708.0 739.2,704.2 742.1,705.2 747.7,712.2 751.5,715.2 755.3,712.7 759.1,714.0 763.8,717.8 767.6,723.1 769.8,727.8 772.8,724.1 775.1,730.3 777.9,729.2 781.2,723.1 783.6,722.2 786.4,719.7 788.3,719.3 791.2,715.2 794.0,711.8 795.9,705.2 799.7,706.1 801.6,705.2 805.3,709.5 807.6,709.5 809.5,713.3 811.4,713.3 813.8,709.5 817.6,713.3 820.1,714.0 822.3,711.8 827.6,709.5 829.5,713.3 832.7,712.2" fill="none" stroke="#000" stroke-width="1.8" stroke-linejoin="round"/>
<rect x="19" y="613.5" width="9" height="2" fill="#000"/>
<text x="31.8" y="618.1" font-family="&quot;Liberation Sans&quot;, sans-serif" font-size="10.6" textLength="71" lengthAdjust="spacing">TLT -10.06%</text>
<polygon points="851.5,712 857.5,706.7 897.5,706.7 897.5,717.3 857.5,717.3" fill="#fff" stroke="#000" stroke-width="1.2"/>
<text x="895.5" y="716.1" text-anchor="end" font-family="&quot;Liberation Sans&quot;, sans-serif" font-weight="bold" font-size="11.5" stroke="#000" stroke-width="0.35" textLength="38.0" lengthAdjust="spacingAndGlyphs">-10.06%</text>
<g font-family="&quot;Liberation Sans&quot;, sans-serif" font-size="10" fill="#000">
<rect x="854" y="751" width="3" height="1" fill="#b8b8b8"/>
<text x="880" y="753.4" text-anchor="end" font-size="9.3" textLength="20.6" lengthAdjust="spacingAndGlyphs">60%</text>
<rect x="854" y="772" width="3" height="1" fill="#b8b8b8"/>
<text x="880" y="774.8" text-anchor="end" font-size="9.3" textLength="20.6" lengthAdjust="spacingAndGlyphs">40%</text>
<rect x="854" y="794" width="3" height="1" fill="#b8b8b8"/>
<text x="880" y="796.2" text-anchor="end" font-size="9.3" textLength="20.6" lengthAdjust="spacingAndGlyphs">20%</text>
<rect x="854" y="815" width="3" height="1" fill="#b8b8b8"/>
<text x="880" y="817.6" text-anchor="end" font-size="9.3" textLength="14.5" lengthAdjust="spacingAndGlyphs">0%</text>
<rect x="854" y="836" width="3" height="1" fill="#b8b8b8"/>
<text x="880" y="839.0" text-anchor="end" font-size="9.3" textLength="26.0" lengthAdjust="spacingAndGlyphs">-20%</text>
<rect x="854" y="858" width="3" height="1" fill="#b8b8b8"/>
<text x="880" y="860.4" text-anchor="end" font-size="9.3" textLength="26.0" lengthAdjust="spacingAndGlyphs">-40%</text>
<rect x="854" y="862" width="2" height="1" fill="#b8b8b8"/>
<rect x="854" y="854" width="2" height="1" fill="#b8b8b8"/>
<rect x="854" y="849" width="2" height="1" fill="#b8b8b8"/>
<rect x="854" y="845" width="2" height="1" fill="#b8b8b8"/>
<rect x="854" y="841" width="2" height="1" fill="#b8b8b8"/>
<rect x="854" y="832" width="2" height="1" fill="#b8b8b8"/>
<rect x="854" y="828" width="2" height="1" fill="#b8b8b8"/>
<rect x="854" y="824" width="2" height="1" fill="#b8b8b8"/>
<rect x="854" y="819" width="2" height="1" fill="#b8b8b8"/>
<rect x="854" y="811" width="2" height="1" fill="#b8b8b8"/>
<rect x="854" y="806" width="2" height="1" fill="#b8b8b8"/>
<rect x="854" y="802" width="2" height="1" fill="#b8b8b8"/>
<rect x="854" y="798" width="2" height="1" fill="#b8b8b8"/>
<rect x="854" y="789" width="2" height="1" fill="#b8b8b8"/>
<rect x="854" y="785" width="2" height="1" fill="#b8b8b8"/>
<rect x="854" y="781" width="2" height="1" fill="#b8b8b8"/>
<rect x="854" y="776" width="2" height="1" fill="#b8b8b8"/>
<rect x="854" y="768" width="2" height="1" fill="#b8b8b8"/>
<rect x="854" y="764" width="2" height="1" fill="#b8b8b8"/>
<rect x="854" y="759" width="2" height="1" fill="#b8b8b8"/>
<rect x="854" y="755" width="2" height="1" fill="#b8b8b8"/>
<rect x="854" y="747" width="2" height="1" fill="#b8b8b8"/>
</g>
<polyline points="17.0,815.3 21.3,817.2 24.5,813.1 30.2,811.9 33.0,810.6 39.6,811.2 43.4,812.5 47.7,815.3 52.8,813.4 58.5,816.8 63.2,816.3 70.8,819.5 74.6,817.6 80.2,818.7 84.0,816.3 88.7,815.0 93.4,815.7 97.2,815.3 102.9,819.5 107.6,824.8 112.3,822.5 115.2,824.4 118.0,828.6 121.8,828.9 125.6,825.2 129.0,823.8 135.0,825.2 138.8,823.3 140.7,822.5 146.3,824.4 150.1,822.5 154.8,822.5 159.6,819.5 164.3,821.0 169.0,823.8 172.8,823.8 178.4,827.0 183.4,827.0 187.9,823.3 193.2,822.5 196.6,825.2 198.9,825.7 202.3,828.2 209.3,830.4 214.9,828.2 219.3,825.7 224.4,827.6 230.1,826.3 237.6,823.3 241.4,823.8 245.2,826.3 248.9,822.9 252.7,821.4 257.4,820.1 263.1,822.9 269.7,829.5 272.6,828.9 276.3,827.6 279.2,835.2 282.0,837.6 287.3,854.1 290.5,853.5 293.3,852.2 296.2,853.1 300.5,860.3 305.6,854.6 308.4,854.6 311.3,851.6 314.5,849.7 316.4,846.5 318.3,849.3 321.3,847.4 323.6,849.3 326.4,845.6 331.1,845.2 335.8,844.0 340.6,841.4 343.4,840.3 347.5,838.4 352.6,841.8 355.4,839.5 360.1,842.7 362.9,838.9 366.7,839.5 370.5,842.7 375.2,838.9 380.9,834.6 384.7,835.2 389.4,831.4 393.2,832.0 397.0,827.0 399.8,826.3 403.6,828.2 408.3,822.5 413.0,819.5 419.6,816.3 423.4,820.1 429.6,820.6 434.7,815.7 438.5,813.1 441.3,809.7 447.0,813.1 450.8,808.7 454.6,806.3 456.4,810.0 462.1,805.5 465.0,807.4 470.6,804.0 475.3,805.5 477.2,804.4 480.6,809.3 482.9,803.6 490.1,801.7 495.2,797.4 501.4,792.3 506.5,792.7 509.0,794.2 511.2,793.6 513.4,793.9 516.6,798.3 519.4,802.1 521.7,799.2 524.2,799.2 528.9,795.4 534.6,788.8 538.3,786.0 542.5,780.3 546.8,778.8 550.0,778.1 553.4,759.6 558.7,763.3 561.4,755.4 563.8,762.4 565.7,761.1 568.6,752.9 571.4,756.2 577.1,752.4 580.8,754.3 584.6,747.3 589.3,744.4 594.1,758.6 597.8,764.3 600.7,766.2 602.6,770.9 605.4,769.4 608.2,764.3 610.5,769.0 612.9,763.0 615.8,763.3 618.6,760.5 621.4,766.7 624.3,768.1 629.0,776.2 631.8,776.2 634.7,766.7 639.4,773.7 642.2,773.7 645.1,765.6 647.9,767.5 649.8,770.9 655.4,771.8 658.3,776.9 663.0,770.5 665.8,771.3 667.7,778.1 672.4,770.9 675.3,771.3 677.8,777.5 681.6,773.7 684.4,776.2 688.2,772.4 694.3,783.7 699.6,775.6 704.3,772.4 710.0,777.5 714.7,781.3 718.1,779.4 723.2,781.3 725.6,780.3 727.9,774.3 731.3,779.4 735.1,778.8 742.1,769.9 744.9,769.4 747.7,769.9 751.5,772.4 756.2,767.5 759.1,767.5 761.9,764.8 767.6,767.5 769.4,771.3 774.2,766.2 779.8,768.1 783.0,773.7 786.8,774.3 790.2,774.7 793.6,779.4 798.7,777.5 800.6,778.4 803.4,777.5 807.2,778.4 811.4,773.7 813.8,776.2 817.6,773.2 821.4,774.3 825.2,771.3 828.0,770.9 829.5,767.5 832.7,766.2" fill="none" stroke="#000" stroke-width="1.8" stroke-linejoin="round"/>
<rect x="19" y="743.5" width="9" height="2" fill="#000"/>
<text x="31.8" y="748.1" font-family="&quot;Liberation Sans&quot;, sans-serif" font-size="10.6" textLength="73.5" lengthAdjust="spacing">$CRB 45.60%</text>
<line x1="628" y1="763" x2="837" y2="763" stroke="#8800ff" stroke-width="2.2"/>
<polygon points="836.2,757.2 848,763 836.2,769" fill="#8800ff"/>
<line x1="355.4" y1="857.3" x2="534.3" y2="804.2" stroke="#6aaa4f" stroke-width="2.4"/>
<polygon points="532.3,798.8 545.9,801.1 536.4,809.6" fill="#6aaa4f"/>
<polygon points="851.5,766 857.5,760.7 893.5,760.7 893.5,771.3 857.5,771.3" fill="#fff" stroke="#000" stroke-width="1.2"/>
<text x="891.5" y="770.1" text-anchor="end" font-family="&quot;Liberation Sans&quot;, sans-serif" font-weight="bold" font-size="11.5" stroke="#000" stroke-width="0.35" textLength="34.0" lengthAdjust="spacingAndGlyphs">45.60%</text>
</svg>
</body></html>
